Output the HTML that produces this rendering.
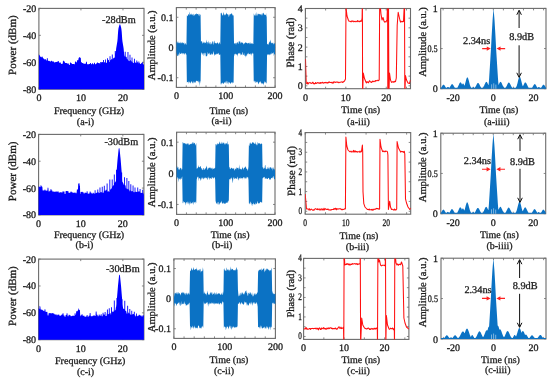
<!DOCTYPE html><html><head><meta charset="utf-8"><style>html,body{margin:0;padding:0;background:#fff;}svg{display:block}</style></head><body><svg width="550" height="381" viewBox="0 0 550 381" font-family="'Liberation Serif','Times New Roman',serif" fill="#1a1a1a">
<style>text{stroke:#222;stroke-width:0.3px;text-rendering:geometricPrecision}</style>
<rect width="550" height="381" fill="#fff"/>
<path d="M38.9 89.2v-2.0M38.9 8.4v2.0M80.94 89.2v-2.0M80.94 8.4v2.0M122.98 89.2v-2.0M122.98 8.4v2.0M38.9 89.2h2.0M144 89.2h-2.0M38.9 62.27h2.0M144 62.27h-2.0M38.9 35.33h2.0M144 35.33h-2.0M38.9 8.4h2.0M144 8.4h-2.0" stroke="#6b6b6b" stroke-width="0.8" fill="none"/>
<rect x="38.9" y="8.4" width="105.1" height="80.8" fill="none" stroke="#6b6b6b" stroke-width="1.1"/>
<path d="M38.9 89.2L38.9 54.28L39.15 54.66L39.4 55.02L39.65 55.36L39.9 56.06L40.15 56.36L40.41 56.64L40.66 56.91L40.91 56.78L41.16 57.02L41.41 57.25L41.66 57.47L41.91 56.37L42.16 56.57L42.41 56.76L42.66 56.94L42.91 58L43.16 58.17L43.42 58.32L43.67 58.47L43.92 59.12L44.17 59.26L44.42 59.39L44.67 59.52L44.92 58.86L45.17 58.98L45.42 59.09L45.67 59.2L45.92 60.2L46.17 60.3L46.43 60.4L46.68 60.5L46.93 58.01L47.18 58.1L47.43 58.19L47.68 58.27L47.93 60.7L48.18 60.78L48.43 60.86L48.68 60.93L48.93 60.79L49.18 60.86L49.44 60.93L49.69 61L49.94 61.48L50.19 61.54L50.44 61.6L50.69 61.66L50.94 60.69L51.19 60.75L51.44 60.81L51.69 60.86L51.94 61.37L52.19 61.42L52.45 61.47L52.7 61.52L52.95 61.32L53.2 61.36L53.45 61.41L53.7 61.45L53.95 62.36L54.2 62.41L54.45 62.45L54.7 62.49L54.95 62.08L55.2 62.12L55.46 62.16L55.71 62.2L55.96 61.97L56.21 62L56.46 62.04L56.71 62.07L56.96 61.72L57.21 61.75L57.46 61.78L57.71 61.81L57.96 60.86L58.21 60.89L58.47 60.92L58.72 60.95L58.97 62.6L59.22 62.62L59.47 62.65L59.72 62.68L59.97 62.48L60.22 62.5L60.47 62.53L60.72 62.56L60.97 63.84L61.22 63.86L61.48 63.88L61.73 63.91L61.98 63.7L62.23 63.72L62.48 63.74L62.73 63.76L62.98 60.81L63.23 60.83L63.48 60.85L63.73 60.87L63.98 61.55L64.23 61.57L64.49 61.59L64.74 61.6L64.99 62.99L65.24 63.01L65.49 63.03L65.74 63.05L65.99 62.86L66.24 62.88L66.49 62.9L66.74 62.91L66.99 63.44L67.24 63.45L67.5 63.47L67.75 63.48L68 63.5L68.25 63.51L68.5 63.53L68.75 63.54L69 65.08L69.25 65.09L69.5 65.1L69.75 65.11L70 62.54L70.25 62.55L70.51 62.57L70.76 62.58L71.01 63.18L71.26 63.19L71.51 63.2L71.76 63.21L72.01 64.08L72.26 64.09L72.51 64.1L72.76 64.11L73.01 64.08L73.26 64.09L73.52 64.1L73.77 64.11L74.02 64.14L74.27 64.14L74.52 64.15L74.77 64.16L75.02 61.43L75.27 61.44L75.52 61.45L75.77 61.45L76.02 62.36L76.27 62.36L76.53 62.37L76.78 62.38L77.03 60.33L77.28 60.33L77.53 60.33L77.78 60.33L78.03 60.29L78.28 60.29L78.53 58.29L78.78 58.29L79.03 57.22L79.28 57.22L79.54 57.22L79.79 57.22L80.04 57.65L80.29 57.65L80.54 57.65L80.79 57.65L81.04 62.36L81.29 62.36L81.54 62.36L81.79 62.36L82.04 62.93L82.29 62.93L82.55 62.93L82.8 62.93L83.05 63.6L83.3 63.6L83.55 63.6L83.8 63.6L84.05 63.75L84.3 63.75L84.55 63.75L84.8 63.75L85.05 63.7L85.3 63.7L85.56 63.7L85.81 63.7L86.06 61.84L86.31 61.83L86.56 61.83L86.81 61.83L87.06 64.14L87.31 64.13L87.56 64.13L87.81 64.13L88.06 64.37L88.31 64.36L88.57 64.36L88.82 64.36L89.07 63.9L89.32 63.9L89.57 63.89L89.82 63.89L90.07 62.98L90.32 62.97L90.57 62.97L90.82 62.97L91.07 64.2L91.32 64.2L91.58 64.19L91.83 64.19L92.08 63.2L92.33 63.19L92.58 63.19L92.83 63.18L93.08 64.28L93.33 64.28L93.58 64.27L93.83 64.26L94.08 62.7L94.33 62.69L94.59 62.68L94.84 62.67L95.09 64.26L95.34 64.25L95.59 64.24L95.84 64.23L96.09 63.47L96.34 63.46L96.59 63.45L96.84 63.44L97.09 62.44L97.34 62.43L97.6 62.42L97.85 62.4L98.1 63.14L98.35 63.12L98.6 63.11L98.85 63.09L99.1 63.37L99.35 63.35L99.6 63.33L99.85 63.31L100.1 63.46L100.35 63.44L100.61 63.42L100.86 63.4L101.11 62.37L101.36 62.34L101.61 62.31L101.86 62.28L102.11 62.15L102.36 62.12L102.61 62.09L102.86 62.05L103.11 63.06L103.36 63.02L103.62 62.98L103.87 62.94L104.12 62.36L104.37 62.31L104.62 62.26L104.87 62.21L105.12 62.72L105.37 62.66L105.62 62.6L105.87 62.54L106.12 62.9L106.37 62.83L106.63 62.76L106.88 62.68L107.13 60.67L107.38 60.59L107.63 60.5L107.88 60.41L108.13 60.08L108.38 59.98L108.63 59.87L108.88 59.76L109.13 62.19L109.38 62.07L109.64 61.94L109.89 61.81L110.14 60.45L110.39 60.3L110.64 60.15L110.89 59.99L111.14 59.41L111.39 59.24L111.64 59.05L111.89 58.86L112.14 59.9L112.39 59.69L112.65 59.47L112.9 59.23L113.15 58.59L113.4 58.33L113.65 58.06L113.9 57.78L114.15 58L114.4 57.68L114.65 57.36L114.9 56.02L115.15 55.66L115.4 55.29L115.66 54.45L115.91 51.62L116.16 48.61L116.41 46.96L116.66 45.6L116.91 44.1L117.16 42.53L117.41 40.97L117.66 38.3L117.91 34.29L118.16 31.09L118.41 28.86L118.67 27.52L118.92 26.64L119.17 25.76L119.42 24.89L119.67 24.39L119.92 24.12L120.17 24.44L120.42 25.03L120.67 25.9L120.92 26.78L121.17 27.66L121.42 29.21L121.68 31.44L121.93 34.92L122.18 38.94L122.43 41.21L122.68 42.78L122.93 44.35L123.18 45.81L123.43 47.18L123.68 49.09L123.93 52.1L124.18 54.76L124.43 56.17L124.69 56.54L124.94 55.84L125.19 56.18L125.44 56.51L125.69 56.81L125.94 56.57L126.19 56.85L126.44 57.11L126.69 57.37L126.94 59.03L127.19 59.26L127.44 59.48L127.7 59.69L127.95 59.91L128.2 60.1L128.45 60.29L128.7 60.46L128.95 60.96L129.2 61.12L129.45 61.27L129.7 61.41L129.95 59.71L130.2 59.84L130.45 59.96L130.71 60.08L130.96 61.27L131.21 61.37L131.46 61.48L131.71 61.58L131.96 61.54L132.21 61.63L132.46 61.72L132.71 61.8L132.96 62.93L133.21 63L133.46 63.07L133.72 63.14L133.97 60.56L134.22 60.62L134.47 60.68L134.72 60.74L134.97 62.48L135.22 62.53L135.47 62.58L135.72 62.63L135.97 62.81L136.22 62.85L136.47 62.89L136.73 62.93L136.98 61.8L137.23 61.84L137.48 61.87L137.73 61.9L137.98 63.34L138.23 63.37L138.48 63.4L138.73 63.42L138.98 62.66L139.23 62.68L139.48 62.71L139.74 62.73L139.99 63.96L140.24 63.98L140.49 64L140.74 64.02L140.99 63.24L141.24 63.26L141.49 63.28L141.74 63.29L141.99 62.14L142.24 62.16L142.49 62.17L142.75 62.18L143 64.43L143.25 64.44L143.5 64.45L143.75 64.46L144 63.8L144 89.2ZM116.85 49.61h0.9V74.2h-0.9ZM114.8 51.09h0.9V74.2h-0.9ZM111.82 54.53h0.9V74.2h-0.9ZM109.58 56.31h0.9V74.2h-0.9ZM107.01 58.31h0.9V74.2h-0.9ZM105.13 59.44h0.9V74.2h-0.9ZM103 60.09h0.9V74.2h-0.9ZM100.23 61.94h0.9V74.2h-0.9ZM122.05 45.35h0.9V74.2h-0.9ZM124.75 51.78h0.9V74.2h-0.9ZM127.51 52.04h0.9V74.2h-0.9ZM129.53 54.86h0.9V74.2h-0.9ZM131.56 57.62h0.9V74.2h-0.9ZM133.96 58.83h0.9V74.2h-0.9ZM136.33 60.42h0.9V74.2h-0.9ZM138.39 61.45h0.9V74.2h-0.9Z" fill="#0000ff"/>
<text x="38.9" y="101.1" font-size="10" text-anchor="middle">0</text>
<text x="80.94" y="101.1" font-size="10" text-anchor="middle">10</text>
<text x="122.98" y="101.1" font-size="10" text-anchor="middle">20</text>
<text x="36.3" y="11.9" font-size="10" text-anchor="end">-20</text>
<text x="36.3" y="38.83" font-size="10" text-anchor="end">-40</text>
<text x="36.3" y="65.77" font-size="10" text-anchor="end">-60</text>
<text x="36.3" y="92.7" font-size="10" text-anchor="end">-80</text>
<text x="102" y="22.8" font-size="10.3">-28dBm</text>
<text x="89.05" y="114.4" font-size="10.0" text-anchor="middle">Frequency (GHz)</text>
<text x="85.45" y="124.8" font-size="10.0" text-anchor="middle">(a-i)</text>
<text x="15.9" y="45.2" font-size="11" text-anchor="middle" transform="rotate(-90 15.9 45.2)">Power (dBm)</text>
<path d="M38.6 214.9v-2.0M38.6 134.4v2.0M80.72 214.9v-2.0M80.72 134.4v2.0M122.84 214.9v-2.0M122.84 134.4v2.0M38.6 214.9h2.0M143.9 214.9h-2.0M38.6 188.07h2.0M143.9 188.07h-2.0M38.6 161.23h2.0M143.9 161.23h-2.0M38.6 134.4h2.0M143.9 134.4h-2.0" stroke="#6b6b6b" stroke-width="0.8" fill="none"/>
<rect x="38.6" y="134.4" width="105.3" height="80.5" fill="none" stroke="#6b6b6b" stroke-width="1.1"/>
<path d="M38.6 214.9L38.6 186.15L38.85 186.42L39.1 186.67L39.35 186.9L39.6 186.56L39.85 186.77L40.1 186.97L40.36 187.15L40.61 185.13L40.86 185.3L41.11 185.46L41.36 185.62L41.61 186.42L41.86 186.56L42.11 186.69L42.36 186.82L42.61 190.33L42.86 190.44L43.11 190.55L43.36 190.65L43.61 190.23L43.87 190.33L44.12 190.42L44.37 190.51L44.62 189.41L44.87 189.5L45.12 189.57L45.37 189.65L45.62 190.6L45.87 190.67L46.12 190.74L46.37 190.81L46.62 190.48L46.87 190.54L47.12 190.6L47.38 190.65L47.63 187.61L47.88 187.67L48.13 187.72L48.38 187.77L48.63 191.47L48.88 191.52L49.13 191.57L49.38 191.61L49.63 190.63L49.88 190.67L50.13 190.71L50.38 190.75L50.63 189.08L50.89 189.12L51.14 189.16L51.39 189.19L51.64 190.56L51.89 190.59L52.14 190.62L52.39 190.66L52.64 191.69L52.89 191.72L53.14 191.75L53.39 191.78L53.64 191.37L53.89 191.4L54.14 191.42L54.4 191.45L54.65 191.99L54.9 192.02L55.15 192.05L55.4 192.07L55.65 191.17L55.9 191.2L56.15 191.22L56.4 191.24L56.65 191.85L56.9 191.88L57.15 191.9L57.4 191.92L57.65 191.12L57.91 191.14L58.16 191.16L58.41 191.18L58.66 192.59L58.91 192.61L59.16 192.63L59.41 192.64L59.66 192.14L59.91 192.15L60.16 192.17L60.41 192.19L60.66 192.32L60.91 192.33L61.16 192.35L61.42 192.36L61.67 192.44L61.92 192.46L62.17 192.47L62.42 192.48L62.67 191.36L62.92 191.37L63.17 191.39L63.42 191.4L63.67 191.5L63.92 191.51L64.17 191.52L64.42 191.53L64.67 193.91L64.92 193.92L65.18 193.93L65.43 193.94L65.68 191L65.93 191.01L66.18 191.02L66.43 191.03L66.68 190.96L66.93 190.97L67.18 190.98L67.43 190.99L67.68 191.18L67.93 191.19L68.18 191.2L68.44 191.21L68.69 193.09L68.94 193.1L69.19 193.11L69.44 193.11L69.69 192.55L69.94 192.56L70.19 192.57L70.44 192.57L70.69 191.6L70.94 191.61L71.19 191.62L71.44 191.62L71.69 192.26L71.94 192.27L72.2 192.27L72.45 192.28L72.7 192.69L72.95 192.7L73.2 192.71L73.45 192.71L73.7 192.78L73.95 192.78L74.2 192.79L74.45 192.79L74.7 192.43L74.95 192.44L75.2 192.44L75.46 192.45L75.71 193.28L75.96 193.29L76.21 193.29L76.46 193.29L76.71 191.7L76.96 189.2L77.21 189.2L77.46 189.2L77.71 189.76L77.96 189.76L78.21 183.86L78.46 183.86L78.71 183.34L78.97 183.34L79.22 183.34L79.47 183.34L79.72 185.64L79.97 185.64L80.22 194.09L80.47 194.1L80.72 192.05L80.97 192.05L81.22 192.05L81.47 192.06L81.72 191.81L81.97 191.81L82.22 191.81L82.47 191.82L82.73 192.23L82.98 192.23L83.23 192.24L83.48 192.24L83.73 193.47L83.98 193.47L84.23 193.47L84.48 193.47L84.73 192.51L84.98 192.51L85.23 192.52L85.48 192.52L85.73 192.9L85.99 192.91L86.24 192.91L86.49 192.91L86.74 191.22L86.99 191.22L87.24 191.22L87.49 191.22L87.74 193.62L87.99 193.63L88.24 193.63L88.49 193.63L88.74 193.56L88.99 193.56L89.24 193.56L89.5 193.56L89.75 191.6L90 191.6L90.25 191.6L90.5 191.6L90.75 192.86L91 192.86L91.25 192.86L91.5 192.87L91.75 193.72L92 193.72L92.25 193.72L92.5 193.72L92.75 192.82L93 192.82L93.26 192.82L93.51 192.82L93.76 193.54L94.01 193.54L94.26 193.53L94.51 193.53L94.76 194.63L95.01 194.62L95.26 194.62L95.51 194.61L95.76 192.93L96.01 192.92L96.26 192.91L96.52 192.91L96.77 192.46L97.02 192.45L97.27 192.44L97.52 192.43L97.77 192.03L98.02 192.02L98.27 192.01L98.52 192L98.77 193.13L99.02 193.12L99.27 193.1L99.52 193.09L99.77 192.4L100.03 192.39L100.28 192.37L100.53 192.35L100.78 192.35L101.03 192.33L101.28 192.31L101.53 192.29L101.78 192.33L102.03 192.3L102.28 192.28L102.53 192.25L102.78 192.83L103.03 192.8L103.28 192.76L103.53 192.73L103.79 191.32L104.04 191.28L104.29 191.24L104.54 191.2L104.79 190.78L105.04 190.73L105.29 190.68L105.54 190.63L105.79 189.84L106.04 189.78L106.29 189.72L106.54 189.65L106.79 192.48L107.05 192.4L107.3 192.31L107.55 192.23L107.8 191.23L108.05 191.13L108.3 191.03L108.55 190.91L108.8 191.94L109.05 191.81L109.3 191.68L109.55 191.54L109.8 190.17L110.05 190.01L110.3 189.84L110.56 189.66L110.81 188.88L111.06 188.67L111.31 188.45L111.56 188.22L111.81 188.95L112.06 188.69L112.31 188.42L112.56 188.12L112.81 186.18L113.06 185.85L113.31 185.5L113.56 185.13L113.81 184.98L114.06 184.56L114.32 184.11L114.57 183.64L114.82 182.79L115.07 182.26L115.32 181.7L115.57 181.1L115.82 182.59L116.07 178.7L116.32 174.82L116.57 171.64L116.82 168.78L117.07 165.61L117.32 162.31L117.58 159.27L117.83 156.85L118.08 154.43L118.33 152L118.58 149.58L118.83 148.24L119.08 147.93L119.33 148.19L119.58 149.18L119.83 151.6L120.08 154.03L120.33 156.45L120.58 158.87L120.83 161.77L121.09 165.07L121.34 168.31L121.59 171.17L121.84 174.18L122.09 178.06L122.34 181.62L122.59 182.26L122.84 182.34L123.09 182.91L123.34 183.45L123.59 183.96L123.84 184.93L124.09 185.38L124.34 185.81L124.59 186.21L124.85 184.71L125.1 185.06L125.35 185.39L125.6 185.71L125.85 188.14L126.1 188.42L126.35 188.68L126.6 187.72L126.85 187.96L127.1 188.18L127.35 188.38L127.6 188.96L127.85 189.15L128.11 189.32L128.36 189.48L128.61 191.45L128.86 191.59L129.11 191.73L129.36 191.86L129.61 190.3L129.86 190.41L130.11 190.52L130.36 190.62L130.61 191.37L130.86 191.46L131.11 191.55L131.36 191.63L131.62 190.91L131.87 190.98L132.12 191.05L132.37 191.11L132.62 191.66L132.87 191.72L133.12 191.77L133.37 191.82L133.62 192.08L133.87 192.13L134.12 192.17L134.37 192.21L134.62 191.86L134.87 191.89L135.12 191.92L135.38 191.95L135.63 191.77L135.88 191.8L136.13 191.82L136.38 191.85L136.63 191.89L136.88 191.91L137.13 191.93L137.38 191.95L137.63 191.85L137.88 191.87L138.13 191.88L138.38 191.87L138.63 191.26L138.89 191.25L139.14 191.24L139.39 191.23L139.64 192.26L139.89 192.25L140.14 192.24L140.39 192.23L140.64 192.75L140.89 192.74L141.14 192.73L141.39 192.72L141.64 193.11L141.89 193.1L142.15 193.09L142.4 193.08L142.65 192.86L142.9 192.85L143.15 192.84L143.4 192.83L143.65 194.27L143.9 194.27L143.9 214.9ZM116.05 169.78h0.9V199.9h-0.9ZM113.84 174.57h0.9V199.9h-0.9ZM111.75 179.62h0.9V199.9h-0.9ZM109.38 179.38h0.9V199.9h-0.9ZM106.66 183.49h0.9V199.9h-0.9ZM103.84 185.82h0.9V199.9h-0.9ZM101.77 186.78h0.9V199.9h-0.9ZM99.53 187.51h0.9V199.9h-0.9ZM97.34 189.39h0.9V199.9h-0.9ZM94.66 190.16h0.9V199.9h-0.9ZM121.25 172.59h0.9V199.9h-0.9ZM123.99 177.23h0.9V199.9h-0.9ZM126.44 178.1h0.9V199.9h-0.9ZM128.39 180.93h0.9V199.9h-0.9ZM130.37 184.25h0.9V199.9h-0.9ZM132.6 185.4h0.9V199.9h-0.9ZM134.56 187.42h0.9V199.9h-0.9ZM137.3 187.61h0.9V199.9h-0.9ZM139.64 189.04h0.9V199.9h-0.9ZM142.27 189.67h0.9V199.9h-0.9Z" fill="#0000ff"/>
<text x="38.6" y="226.8" font-size="10" text-anchor="middle">0</text>
<text x="80.72" y="226.8" font-size="10" text-anchor="middle">10</text>
<text x="122.84" y="226.8" font-size="10" text-anchor="middle">20</text>
<text x="36" y="137.9" font-size="10" text-anchor="end">-20</text>
<text x="36" y="164.73" font-size="10" text-anchor="end">-40</text>
<text x="36" y="191.57" font-size="10" text-anchor="end">-60</text>
<text x="36" y="218.4" font-size="10" text-anchor="end">-80</text>
<text x="104.4" y="145.4" font-size="10.3">-30dBm</text>
<text x="89.05" y="238.3" font-size="10.0" text-anchor="middle">Frequency (GHz)</text>
<text x="84.5" y="248.4" font-size="10.0" text-anchor="middle">(b-i)</text>
<text x="15.9" y="171.4" font-size="11" text-anchor="middle" transform="rotate(-90 15.9 171.4)">Power (dBm)</text>
<path d="M38.6 339.7v-2.0M38.6 259.1v2.0M80.72 339.7v-2.0M80.72 259.1v2.0M122.84 339.7v-2.0M122.84 259.1v2.0M38.6 339.7h2.0M143.9 339.7h-2.0M38.6 312.83h2.0M143.9 312.83h-2.0M38.6 285.97h2.0M143.9 285.97h-2.0M38.6 259.1h2.0M143.9 259.1h-2.0" stroke="#6b6b6b" stroke-width="0.8" fill="none"/>
<rect x="38.6" y="259.1" width="105.3" height="80.6" fill="none" stroke="#6b6b6b" stroke-width="1.1"/>
<path d="M38.6 339.7L38.6 308.13L38.85 308.5L39.1 308.85L39.35 309.17L39.6 305.8L39.85 306.09L40.1 306.37L40.36 306.63L40.61 309.25L40.86 309.49L41.11 309.71L41.36 309.92L41.61 309.33L41.86 309.52L42.11 309.7L42.36 309.87L42.61 310.13L42.86 310.29L43.11 310.44L43.36 310.58L43.61 310.91L43.87 311.04L44.12 311.17L44.37 311.29L44.62 309.14L44.87 309.25L45.12 309.36L45.37 309.47L45.62 311.82L45.87 311.92L46.12 312.01L46.37 312.1L46.62 311.68L46.87 311.77L47.12 311.85L47.38 311.93L47.63 315.36L47.88 315.43L48.13 315.5L48.38 315.57L48.63 313.17L48.88 313.23L49.13 313.3L49.38 313.36L49.63 312.96L49.88 313.02L50.13 313.07L50.38 313.13L50.63 313.24L50.89 313.3L51.14 313.35L51.39 313.4L51.64 313.14L51.89 313.19L52.14 313.23L52.39 313.28L52.64 313.02L52.89 313.06L53.14 313.1L53.39 313.14L53.64 313.72L53.89 313.76L54.14 313.8L54.4 313.83L54.65 314.57L54.9 314.6L55.15 314.64L55.4 314.68L55.65 314.13L55.9 314.17L56.15 314.2L56.4 314.23L56.65 315.22L56.9 315.25L57.15 315.28L57.4 315.31L57.65 314.41L57.91 314.44L58.16 314.46L58.41 314.49L58.66 314.7L58.91 314.72L59.16 314.75L59.41 314.77L59.66 316.01L59.91 316.04L60.16 316.06L60.41 316.08L60.66 315.3L60.91 315.32L61.16 315.35L61.42 315.37L61.67 314.55L61.92 314.57L62.17 314.58L62.42 314.6L62.67 313.13L62.92 313.15L63.17 313.17L63.42 313.18L63.67 315.53L63.92 315.55L64.17 315.56L64.42 315.58L64.67 316.71L64.92 316.72L65.18 316.74L65.43 316.75L65.68 315L65.93 315.02L66.18 315.03L66.43 315.05L66.68 313.15L66.93 313.17L67.18 313.18L67.43 313.19L67.68 316.13L67.93 316.14L68.18 316.15L68.44 316.16L68.69 314.66L68.94 314.67L69.19 314.68L69.44 314.69L69.69 315.18L69.94 315.19L70.19 315.2L70.44 315.21L70.69 316.16L70.94 316.17L71.19 316.18L71.44 316.19L71.69 315.95L71.94 315.96L72.2 315.97L72.45 315.98L72.7 315.59L72.95 315.6L73.2 315.61L73.45 315.62L73.7 316.09L73.95 316.1L74.2 316.1L74.45 316.11L74.7 313.32L74.95 313.32L75.2 313.33L75.46 313.34L75.71 314.9L75.96 314.91L76.21 311.19L76.46 311.19L76.71 311.13L76.96 311.13L77.21 311.13L77.46 311.13L77.71 310.57L77.96 310.57L78.21 308.27L78.46 308.27L78.71 309.82L78.97 309.82L79.22 309.82L79.47 309.82L79.72 310.16L79.97 310.16L80.22 316.26L80.47 316.26L80.72 315.35L80.97 315.35L81.22 315.36L81.47 315.36L81.72 314.34L81.97 314.34L82.22 314.34L82.47 314.35L82.73 315.76L82.98 315.76L83.23 315.76L83.48 315.77L83.73 315.71L83.98 315.71L84.23 315.71L84.48 315.72L84.73 316.89L84.98 316.89L85.23 316.89L85.48 316.89L85.73 316.37L85.99 316.37L86.24 316.38L86.49 316.38L86.74 315.04L86.99 315.04L87.24 315.05L87.49 315.05L87.74 316.68L87.99 316.68L88.24 316.69L88.49 316.69L88.74 315.64L88.99 315.64L89.24 315.64L89.5 315.64L89.75 312.93L90 312.93L90.25 312.93L90.5 312.93L90.75 316.28L91 316.28L91.25 316.29L91.5 316.29L91.75 316.29L92 316.29L92.25 316.29L92.5 316.29L92.75 315.66L93 315.66L93.26 315.66L93.51 315.66L93.76 315.21L94.01 315.21L94.26 315.21L94.51 315.21L94.76 316.02L95.01 316.01L95.26 316.01L95.51 316.01L95.76 311.5L96.01 311.5L96.26 311.49L96.52 311.49L96.77 314.85L97.02 314.85L97.27 314.84L97.52 314.83L97.77 316.16L98.02 316.16L98.27 316.15L98.52 316.14L98.77 314.43L99.02 314.42L99.27 314.41L99.52 314.4L99.77 315.75L100.03 315.73L100.28 315.72L100.53 315.71L100.78 314.87L101.03 314.86L101.28 314.84L101.53 314.83L101.78 316.18L102.03 316.17L102.28 316.15L102.53 316.13L102.78 313.87L103.03 313.85L103.28 313.82L103.53 313.79L103.79 314.66L104.04 314.63L104.29 314.6L104.54 314.57L104.79 315.83L105.04 315.79L105.29 315.76L105.54 315.71L105.79 316.03L106.04 315.98L106.29 315.93L106.54 315.88L106.79 313.17L107.05 313.11L107.3 313.05L107.55 312.98L107.8 314.24L108.05 314.17L108.3 314.09L108.55 314.01L108.8 314.58L109.05 314.49L109.3 314.39L109.55 314.29L109.8 313.43L110.05 313.31L110.3 313.19L110.56 313.06L110.81 314.68L111.06 314.53L111.31 314.38L111.56 314.21L111.81 311.81L112.06 311.63L112.31 311.43L112.56 311.23L112.81 312.25L113.06 312.02L113.31 311.77L113.56 311.51L113.81 310.12L114.06 309.83L114.32 309.52L114.57 309.2L114.82 310.82L115.07 310.45L115.32 310.07L115.57 309.66L115.82 307.46L116.07 307L116.32 305.24L116.57 302.59L116.82 299.67L117.07 296.72L117.32 293.71L117.58 290.7L117.83 287.69L118.08 284.75L118.33 282.39L118.58 280.02L118.83 277.66L119.08 275.3L119.33 274.81L119.58 274.7L119.83 275.01L120.08 276.82L120.33 279.18L120.58 281.55L120.83 283.91L121.09 286.62L121.34 289.63L121.59 292.64L121.84 295.65L122.09 298.63L122.34 301.55L122.59 304.47L122.84 306.56L123.09 308.22L123.34 308.66L123.59 309.08L123.84 308.68L124.09 309.05L124.34 309.4L124.59 309.73L124.85 309.92L125.1 310.21L125.35 310.49L125.6 310.76L125.85 311.01L126.1 311.24L126.35 311.47L126.6 313.41L126.85 313.61L127.1 313.8L127.35 313.97L127.6 311.88L127.85 312.04L128.11 312.19L128.36 312.33L128.61 313.15L128.86 313.28L129.11 313.4L129.36 313.51L129.61 313.83L129.86 313.93L130.11 314.03L130.36 314.12L130.61 314.64L130.86 314.72L131.11 314.79L131.36 314.87L131.62 314.62L131.87 314.68L132.12 314.74L132.37 314.8L132.62 313.99L132.87 314.04L133.12 314.09L133.37 314.13L133.62 313.79L133.87 313.83L134.12 313.87L134.37 313.9L134.62 315.32L134.87 315.35L135.12 315.38L135.38 315.41L135.63 316.41L135.88 316.44L136.13 316.46L136.38 316.48L136.63 316.14L136.88 316.16L137.13 316.18L137.38 316.2L137.63 315.78L137.88 315.8L138.13 315.81L138.38 315.83L138.63 315.41L138.89 315.43L139.14 315.44L139.39 315.45L139.64 315.36L139.89 315.37L140.14 315.38L140.39 315.39L140.64 315.56L140.89 315.57L141.14 315.57L141.39 315.58L141.64 316.44L141.89 316.44L142.15 316.45L142.4 316.45L142.65 315.17L142.9 315.18L143.15 315.18L143.4 315.19L143.65 315.43L143.9 315.43L143.9 339.7ZM116.45 297.98h0.9V324.7h-0.9ZM113.84 300.45h0.9V324.7h-0.9ZM111.07 307.32h0.9V324.7h-0.9ZM108.79 308.21h0.9V324.7h-0.9ZM106.95 309.47h0.9V324.7h-0.9ZM104.65 312.03h0.9V324.7h-0.9ZM102.59 312.87h0.9V324.7h-0.9ZM100.73 314.21h0.9V324.7h-0.9ZM121.65 299.13h0.9V324.7h-0.9ZM124.33 300.77h0.9V324.7h-0.9ZM127.21 305.77h0.9V324.7h-0.9ZM129.36 308.96h0.9V324.7h-0.9ZM131.31 310.71h0.9V324.7h-0.9ZM133.84 311.63h0.9V324.7h-0.9ZM135.99 313.42h0.9V324.7h-0.9ZM138.76 314.67h0.9V324.7h-0.9Z" fill="#0000ff"/>
<text x="38.6" y="351.6" font-size="10" text-anchor="middle">0</text>
<text x="80.72" y="351.6" font-size="10" text-anchor="middle">10</text>
<text x="122.84" y="351.6" font-size="10" text-anchor="middle">20</text>
<text x="36" y="262.6" font-size="10" text-anchor="end">-20</text>
<text x="36" y="289.47" font-size="10" text-anchor="end">-40</text>
<text x="36" y="316.33" font-size="10" text-anchor="end">-60</text>
<text x="36" y="343.2" font-size="10" text-anchor="end">-80</text>
<text x="105.9" y="271.8" font-size="10.3">-30dBm</text>
<text x="90.2" y="364.4" font-size="10.0" text-anchor="middle">Frequency (GHz)</text>
<text x="85.5" y="374.8" font-size="10.0" text-anchor="middle">(c-i)</text>
<text x="15.9" y="296.1" font-size="11" text-anchor="middle" transform="rotate(-90 15.9 296.1)">Power (dBm)</text>
<path d="M176.4 87.4v-2.0M176.4 7.6v2.0M186.27 87.4v-2.0M186.27 7.6v2.0M196.14 87.4v-2.0M196.14 7.6v2.0M206.01 87.4v-2.0M206.01 7.6v2.0M215.88 87.4v-2.0M215.88 7.6v2.0M225.75 87.4v-2.0M225.75 7.6v2.0M235.62 87.4v-2.0M235.62 7.6v2.0M245.49 87.4v-2.0M245.49 7.6v2.0M255.36 87.4v-2.0M255.36 7.6v2.0M265.23 87.4v-2.0M265.23 7.6v2.0M275.1 87.4v-2.0M275.1 7.6v2.0M176.4 77.73h2.0M275.1 77.73h-2.0M176.4 47.5h2.0M275.1 47.5h-2.0M176.4 17.27h2.0M275.1 17.27h-2.0" stroke="#6b6b6b" stroke-width="0.8" fill="none"/>
<rect x="176.4" y="7.6" width="98.7" height="79.8" fill="none" stroke="#6b6b6b" stroke-width="1.1"/>
<path d="M176.4 43.02L176.8 41.62L177.21 41.76L177.61 43.6L178.01 40.71L178.41 43.62L178.82 42.46L179.22 43.12L179.62 42.27L180.03 44.11L180.43 41.4L180.83 43.16L181.23 42.34L181.64 43.2L182.04 43.46L182.44 42.57L182.85 42.19L183.25 43.27L183.65 43.22L184.05 42.33L184.46 43.98L184.86 44.66L185.26 42.64L185.67 43.77L186.07 45.09L186.47 43.92L186.87 15.14L187.28 15.91L187.68 16.22L188.08 14.61L188.49 13.7L188.89 14.89L189.29 15.43L189.69 11.6L190.1 13.65L190.5 14.96L190.9 14.07L191.31 13.54L191.71 14.86L192.11 15.51L192.51 14.28L192.92 14.38L193.32 13.48L193.72 16L194.13 15.35L194.53 15.53L194.93 14.08L195.33 14.51L195.74 14.09L196.14 14.48L196.54 13.18L196.95 13.78L197.35 13.98L197.75 14.22L198.15 13.63L198.56 16.05L198.96 13.87L199.36 14.01L199.77 16.52L200.17 14.28L200.57 14.91L200.97 42.23L201.38 40.91L201.78 41.03L202.18 42.7L202.59 43.99L202.99 40.92L203.39 42.78L203.79 42.54L204.2 43.61L204.6 41.91L205 42.42L205.41 43.25L205.81 42.39L206.21 41.73L206.61 39.54L207.02 44.72L207.42 42.12L207.82 42.57L208.23 40.6L208.63 44.12L209.03 41.73L209.43 44.39L209.84 42.46L210.24 41.68L210.64 44.75L211.05 43.38L211.45 44.44L211.85 42.8L212.25 41.46L212.66 40.92L213.06 44.94L213.46 43.67L213.87 41.6L214.27 40.55L214.67 42.61L215.07 43.85L215.48 42.74L215.88 43.08L216.28 43.27L216.69 43.84L217.09 42.34L217.49 42.73L217.89 42.64L218.3 43.29L218.7 44.42L219.1 43.57L219.51 41.78L219.91 43.26L220.31 44.58L220.71 13.23L221.12 13.09L221.52 12.42L221.92 14.32L222.33 15.13L222.73 15.71L223.13 13.24L223.53 11.93L223.94 15.51L224.34 15.33L224.74 14.01L225.15 15.52L225.55 13.75L225.95 15.02L226.35 12.59L226.76 13.49L227.16 14.62L227.56 13.67L227.97 15.09L228.37 14.3L228.77 16.91L229.17 16.18L229.58 13.8L229.98 15.27L230.38 14.03L230.79 14.07L231.19 13.25L231.59 13.79L231.99 13.57L232.4 14.76L232.8 15.38L233.2 15.42L233.61 15.16L234.01 43.28L234.41 43.64L234.81 43.16L235.22 42.79L235.62 43.42L236.02 45.09L236.43 43.14L236.83 42.82L237.23 41.91L237.63 42.45L238.04 43.74L238.44 43.82L238.84 40.93L239.25 42.26L239.65 41.12L240.05 40.81L240.45 43.92L240.86 42.35L241.26 42.57L241.66 42.47L242.07 42.49L242.47 42.85L242.87 42.87L243.27 44.65L243.68 43.23L244.08 43.85L244.48 42.93L244.89 43.55L245.29 42.4L245.69 42.19L246.09 42.73L246.5 42.72L246.9 42.96L247.3 43.53L247.71 43.23L248.11 43.58L248.51 42.65L248.91 43.04L249.32 42.44L249.72 44.46L250.12 42.12L250.53 43.87L250.93 43.84L251.33 43.27L251.73 43.66L252.14 42.75L252.54 43.67L252.94 44.19L253.35 43.95L253.75 13.26L254.15 14.6L254.55 15.88L254.96 14.64L255.36 16.29L255.76 12.75L256.17 16.26L256.57 14.14L256.97 11.75L257.37 16.18L257.78 14.33L258.18 13.59L258.58 14.15L258.99 14.37L259.39 13.64L259.79 14.48L260.19 14.29L260.6 14.78L261 13.98L261.4 15.64L261.81 13.81L262.21 13L262.61 15.8L263.01 13.07L263.42 12.85L263.82 13.63L264.22 15.19L264.63 13.91L265.03 15.13L265.43 14.78L265.83 14.55L266.24 17.1L266.64 12.47L267.04 44.15L267.45 43.8L267.85 44.62L268.25 44.66L268.65 44.06L269.06 42.19L269.46 41.3L269.86 43.09L270.27 39.43L270.67 41.31L271.07 43.54L271.47 42.9L271.88 42.59L272.28 43.51L272.68 42.74L273.09 42.45L273.49 43.97L273.89 44.62L274.29 43.29L274.7 43.28L275.1 43.43L275.1 55.12L274.7 54.2L274.29 53.79L273.89 56.22L273.49 51.93L273.09 52.92L272.68 52.95L272.28 53.93L271.88 52.34L271.47 54.58L271.07 53.68L270.67 55.29L270.27 53.16L269.86 54.48L269.46 55.39L269.06 53.78L268.65 54.51L268.25 54.92L267.85 53.76L267.45 54.91L267.04 55.33L266.64 83.9L266.24 82.79L265.83 82.41L265.43 81.56L265.03 83.43L264.63 81.96L264.22 81.03L263.82 85.62L263.42 83.64L263.01 83.28L262.61 83.18L262.21 83.87L261.81 84.3L261.4 82.46L261 83.3L260.6 80.86L260.19 82.17L259.79 82.45L259.39 81.38L258.99 83.16L258.58 83.39L258.18 84.53L257.78 81.51L257.37 81.7L256.97 82.94L256.57 81.45L256.17 82.36L255.76 80.82L255.36 83.03L254.96 82.44L254.55 81.19L254.15 80.51L253.75 81.68L253.35 54L252.94 53.09L252.54 54.35L252.14 52.27L251.73 56.36L251.33 52.88L250.93 55.35L250.53 52.92L250.12 54.34L249.72 54.31L249.32 53.84L248.91 54.46L248.51 52.51L248.11 54.1L247.71 53.45L247.3 54.04L246.9 56.52L246.5 54.34L246.09 56.38L245.69 55.61L245.29 57.79L244.89 52.55L244.48 56.22L244.08 55.26L243.68 54.46L243.27 55.26L242.87 51.74L242.47 52.95L242.07 55.44L241.66 54.27L241.26 54.57L240.86 55.43L240.45 53.89L240.05 52.94L239.65 52.7L239.25 54.2L238.84 52.65L238.44 53.96L238.04 53.32L237.63 56.65L237.23 54.4L236.83 54.43L236.43 54.6L236.02 54.24L235.62 54.22L235.22 53.26L234.81 56.21L234.41 53.67L234.01 54.21L233.61 82.27L233.2 82.92L232.8 81.67L232.4 83.77L231.99 82.3L231.59 82.45L231.19 82.61L230.79 83.34L230.38 83.91L229.98 82.95L229.58 82.64L229.17 81.72L228.77 84.63L228.37 81.38L227.97 82.38L227.56 83.91L227.16 80.53L226.76 84.21L226.35 80.54L225.95 82.09L225.55 83.54L225.15 81.08L224.74 82.45L224.34 82.74L223.94 82.69L223.53 84.14L223.13 83.46L222.73 82.63L222.33 82.41L221.92 84.73L221.52 83.46L221.12 82.63L220.71 85.09L220.31 54.47L219.91 54.46L219.51 54.63L219.1 54.97L218.7 54.09L218.3 52.76L217.89 53.26L217.49 54.15L217.09 54.02L216.69 53.4L216.28 54.43L215.88 54.47L215.48 54.88L215.07 53.74L214.67 54.44L214.27 56.22L213.87 53.52L213.46 51.02L213.06 52.97L212.66 55.19L212.25 53.81L211.85 54.66L211.45 52.94L211.05 54.83L210.64 54.68L210.24 54.55L209.84 54.85L209.43 53.2L209.03 52.54L208.63 54.04L208.23 54.23L207.82 51.72L207.42 54.64L207.02 56.27L206.61 56.04L206.21 56.56L205.81 56.24L205.41 52.48L205 53.57L204.6 52.47L204.2 55.21L203.79 56.06L203.39 53.09L202.99 53.61L202.59 55.14L202.18 52.88L201.78 52.38L201.38 52.72L200.97 55.17L200.57 83.67L200.17 81.03L199.77 81.47L199.36 86.48L198.96 80.25L198.56 81.65L198.15 82.68L197.75 80.84L197.35 81.22L196.95 81.08L196.54 80.38L196.14 81.26L195.74 81.57L195.33 83.09L194.93 82.35L194.53 82.89L194.13 81.58L193.72 81.16L193.32 83.8L192.92 81.4L192.51 83.62L192.11 82.95L191.71 80.7L191.31 81.74L190.9 82.4L190.5 82.59L190.1 83.77L189.69 81.75L189.29 81.52L188.89 84.06L188.49 81.01L188.08 82.58L187.68 82.08L187.28 82.01L186.87 82.6L186.47 54.07L186.07 54.96L185.67 53.44L185.26 52.94L184.86 53.23L184.46 54.35L184.05 54.73L183.65 53.17L183.25 53.3L182.85 53.55L182.44 52.95L182.04 54.85L181.64 52.4L181.23 53.4L180.83 53.76L180.43 53.79L180.03 54.03L179.62 52.05L179.22 54.98L178.82 55.93L178.41 53.6L178.01 55.84L177.61 56.33L177.21 55.45L176.8 52.83L176.4 55.41Z" fill="#0b72c4"/>
<text x="176.4" y="99.3" font-size="10" text-anchor="middle">0</text>
<text x="225.75" y="99.3" font-size="10" text-anchor="middle">100</text>
<text x="275.1" y="99.3" font-size="10" text-anchor="middle">200</text>
<text x="173.4" y="20.77" font-size="10" text-anchor="end">0.1</text>
<text x="173.4" y="51" font-size="10" text-anchor="end">0</text>
<text x="173.4" y="81.23" font-size="10" text-anchor="end">-0.1</text>
<text x="228.8" y="113.5" font-size="10.0" text-anchor="middle">Time (ns)</text>
<text x="221.5" y="124.1" font-size="10.0" text-anchor="middle">(a-ii)</text>
<text x="155.3" y="45.3" font-size="10.5" text-anchor="middle" transform="rotate(-90 155.3 45.3)">Amplitude (a.u.)</text>
<path d="M176.6 214.4v-2.0M176.6 132.2v2.0M186.44 214.4v-2.0M186.44 132.2v2.0M196.28 214.4v-2.0M196.28 132.2v2.0M206.12 214.4v-2.0M206.12 132.2v2.0M215.96 214.4v-2.0M215.96 132.2v2.0M225.8 214.4v-2.0M225.8 132.2v2.0M235.64 214.4v-2.0M235.64 132.2v2.0M245.48 214.4v-2.0M245.48 132.2v2.0M255.32 214.4v-2.0M255.32 132.2v2.0M265.16 214.4v-2.0M265.16 132.2v2.0M275 214.4v-2.0M275 132.2v2.0M176.6 204.44h2.0M275 204.44h-2.0M176.6 173.3h2.0M275 173.3h-2.0M176.6 142.16h2.0M275 142.16h-2.0" stroke="#6b6b6b" stroke-width="0.8" fill="none"/>
<rect x="176.6" y="132.2" width="98.4" height="82.2" fill="none" stroke="#6b6b6b" stroke-width="1.1"/>
<path d="M176.6 168.48L177 165.5L177.4 167.67L177.8 167.68L178.21 166.71L178.61 169.79L179.01 169.16L179.41 169.91L179.81 168.59L180.21 167.39L180.62 168.5L181.02 167.93L181.42 170.56L181.82 168.31L182.22 169.46L182.62 141.79L183.03 142.75L183.43 142.69L183.83 143.78L184.23 143.05L184.63 143L185.03 144.1L185.44 144.26L185.84 142.67L186.24 144.38L186.64 144.37L187.04 142.85L187.44 144.51L187.85 142.89L188.25 145.46L188.65 142.82L189.05 144.4L189.45 144.32L189.85 145.19L190.26 143.88L190.66 143.99L191.06 143.51L191.46 144.3L191.86 143.62L192.26 141.74L192.67 143.27L193.07 144.35L193.47 141.79L193.87 143.86L194.27 143.07L194.67 142.78L195.08 143.9L195.48 145.82L195.88 144.1L196.28 143.12L196.68 168.89L197.08 168L197.48 167.41L197.89 169.07L198.29 164.91L198.69 166.71L199.09 167.3L199.49 167.2L199.89 167.28L200.3 166.02L200.7 166.19L201.1 168.47L201.5 167.82L201.9 169.46L202.3 170.17L202.71 169.44L203.11 168.07L203.51 167.96L203.91 170.15L204.31 169.89L204.71 168.82L205.12 168.68L205.52 168.53L205.92 167.74L206.32 167.13L206.72 165.53L207.12 167.81L207.53 169.67L207.93 169.76L208.33 168.22L208.73 167.75L209.13 167.68L209.53 167.83L209.94 167.62L210.34 167.59L210.74 168.35L211.14 169.27L211.54 167.98L211.94 167.82L212.35 170.12L212.75 167.2L213.15 168.95L213.55 168.73L213.95 168.18L214.35 167.66L214.76 168.92L215.16 167.4L215.56 143.64L215.96 144.56L216.36 144.02L216.76 145.87L217.16 144.43L217.57 142.77L217.97 144.49L218.37 144.08L218.77 143.88L219.17 141.17L219.57 142.61L219.98 143.75L220.38 144L220.78 143.13L221.18 141.46L221.58 144.09L221.98 143.16L222.39 144.04L222.79 142.25L223.19 143L223.59 142.27L223.99 143.71L224.39 144.86L224.8 142.75L225.2 142.9L225.6 144.67L226 143.21L226.4 143.23L226.8 143.91L227.21 140.87L227.61 144.39L228.01 144.3L228.41 143.84L228.81 145.53L229.21 169.44L229.62 166.68L230.02 167.55L230.42 169.14L230.82 169.09L231.22 167.84L231.62 167.76L232.03 168.19L232.43 168.9L232.83 168.14L233.23 168.06L233.63 169.22L234.03 167.8L234.44 170.78L234.84 169.88L235.24 168.81L235.64 168.59L236.04 169.68L236.44 168.12L236.84 167.32L237.25 167.98L237.65 168.23L238.05 167.52L238.45 168.03L238.85 169.72L239.25 168.69L239.66 164.28L240.06 169.71L240.46 168.41L240.86 168.9L241.26 169.45L241.66 169.58L242.07 168.36L242.47 168.13L242.87 166.41L243.27 170.05L243.67 168.79L244.07 168.1L244.48 167.44L244.88 167.74L245.28 165.94L245.68 167.15L246.08 167.58L246.48 169.36L246.89 168.41L247.29 169.25L247.69 171.07L248.09 169.49L248.49 166.2L248.89 144.94L249.3 146.16L249.7 143.81L250.1 142.06L250.5 143.77L250.9 143.28L251.3 144.02L251.71 143.81L252.11 142.34L252.51 142.85L252.91 141.98L253.31 142.75L253.71 142.55L254.12 143.96L254.52 143.43L254.92 143.44L255.32 144.45L255.72 141.38L256.12 143.9L256.52 144.4L256.93 145.55L257.33 145.1L257.73 142.06L258.13 143.09L258.53 143.25L258.93 144.12L259.34 143.16L259.74 143.06L260.14 144.57L260.54 144.04L260.94 143.61L261.34 143.6L261.75 143.75L262.15 144.06L262.55 167.79L262.95 167.04L263.35 167.88L263.75 169.28L264.16 168.04L264.56 168.41L264.96 165.38L265.36 164.81L265.76 168.71L266.16 168.49L266.57 169.44L266.97 168.79L267.37 169.09L267.77 166.73L268.17 168.14L268.57 169.1L268.98 166.37L269.38 169.92L269.78 167.54L270.18 167.37L270.58 167.85L270.98 166.63L271.39 168.61L271.79 168.85L272.19 167.62L272.59 171.01L272.99 166.59L273.39 168.14L273.8 169.11L274.2 170.45L274.6 168.74L275 169.3L275 179.95L274.6 178.97L274.2 179.01L273.8 177.93L273.39 175.92L272.99 176.6L272.59 178.8L272.19 177.16L271.79 178.18L271.39 177.76L270.98 178.52L270.58 179.36L270.18 180.08L269.78 179.07L269.38 180.3L268.98 177.86L268.57 178.11L268.17 178.09L267.77 179.2L267.37 178.83L266.97 179.01L266.57 178.63L266.16 177.82L265.76 178.52L265.36 178.5L264.96 179.01L264.56 177L264.16 176.8L263.75 177.64L263.35 177.16L262.95 177.63L262.55 178.78L262.15 202.77L261.75 201.63L261.34 202.92L260.94 201.91L260.54 202.21L260.14 201.54L259.74 203.81L259.34 202.62L258.93 204.11L258.53 202.83L258.13 203.8L257.73 200.77L257.33 202.46L256.93 203.7L256.52 204.27L256.12 203.07L255.72 205.24L255.32 202.32L254.92 204.19L254.52 204.22L254.12 204.44L253.71 204.27L253.31 202.43L252.91 203.88L252.51 204.1L252.11 206.16L251.71 204.8L251.3 202.98L250.9 202.61L250.5 201.31L250.1 204.18L249.7 202.55L249.3 204.58L248.89 203.24L248.49 179.9L248.09 177.37L247.69 176.71L247.29 177.39L246.89 178.85L246.48 177.92L246.08 176.59L245.68 178.74L245.28 178.38L244.88 177.81L244.48 177.13L244.07 179.49L243.67 176.64L243.27 177.53L242.87 178.26L242.47 177.63L242.07 179.71L241.66 177.68L241.26 178.39L240.86 177.34L240.46 178.79L240.06 178.43L239.66 177.82L239.25 178.55L238.85 180.77L238.45 178.11L238.05 180.18L237.65 177.76L237.25 176.46L236.84 178.55L236.44 178.65L236.04 179.01L235.64 178L235.24 178.27L234.84 179.3L234.44 178.85L234.03 177.16L233.63 177.62L233.23 178.66L232.83 183.5L232.43 180.93L232.03 178.4L231.62 177.35L231.22 178.72L230.82 179.77L230.42 177.69L230.02 179.56L229.62 178.84L229.21 180.05L228.81 200.99L228.41 200.49L228.01 202.71L227.61 202.99L227.21 201.25L226.8 203.01L226.4 202.86L226 202.43L225.6 203.34L225.2 203.97L224.8 203.66L224.39 203.56L223.99 203.54L223.59 203.51L223.19 202.37L222.79 203.47L222.39 203.81L221.98 203.11L221.58 200.38L221.18 202.56L220.78 202.17L220.38 202.73L219.98 203.43L219.57 204.97L219.17 202.83L218.77 205.37L218.37 202.02L217.97 201.83L217.57 202.89L217.16 204.87L216.76 202.44L216.36 204.13L215.96 202.6L215.56 200.63L215.16 179.85L214.76 177.09L214.35 177.64L213.95 177.6L213.55 178.18L213.15 178.76L212.75 177.62L212.35 177.54L211.94 177.1L211.54 179.36L211.14 178.76L210.74 177.88L210.34 178.5L209.94 178.01L209.53 180.3L209.13 177.6L208.73 178.44L208.33 176.32L207.93 179.11L207.53 180.29L207.12 176.93L206.72 178.24L206.32 178.42L205.92 177.21L205.52 178.43L205.12 177.17L204.71 178.84L204.31 177.33L203.91 179.14L203.51 179.16L203.11 177.4L202.71 179.03L202.3 177.46L201.9 177.28L201.5 179.99L201.1 178.11L200.7 178.94L200.3 181.18L199.89 178.74L199.49 177.93L199.09 178.31L198.69 176.34L198.29 181.47L197.89 177.23L197.48 176.39L197.08 178.12L196.68 179.84L196.28 202.21L195.88 203.87L195.48 201.47L195.08 202.05L194.67 201.94L194.27 203.15L193.87 201.19L193.47 203.4L193.07 204.94L192.67 201.96L192.26 202.49L191.86 203.8L191.46 202.79L191.06 203.47L190.66 201.18L190.26 204.14L189.85 202.68L189.45 205.71L189.05 201.18L188.65 202.8L188.25 204.39L187.85 201.09L187.44 204.28L187.04 201.64L186.64 202.28L186.24 202.86L185.84 205.43L185.44 203.32L185.03 202.48L184.63 202.36L184.23 202.2L183.83 201.12L183.43 201.92L183.03 203.58L182.62 202.66L182.22 176.38L181.82 177.28L181.42 179.14L181.02 178.54L180.62 180.29L180.21 178.03L179.81 179.19L179.41 179.14L179.01 177.48L178.61 182.38L178.21 178.38L177.8 177L177.4 177.73L177 179.56L176.6 177.45Z" fill="#0b72c4"/>
<text x="176.6" y="226.3" font-size="10" text-anchor="middle">0</text>
<text x="225.8" y="226.3" font-size="10" text-anchor="middle">100</text>
<text x="275" y="226.3" font-size="10" text-anchor="middle">200</text>
<text x="173.6" y="145.66" font-size="10" text-anchor="end">0.1</text>
<text x="173.6" y="176.8" font-size="10" text-anchor="end">0</text>
<text x="173.6" y="207.94" font-size="10" text-anchor="end">-0.1</text>
<text x="230.2" y="238.3" font-size="10.0" text-anchor="middle">Time (ns)</text>
<text x="222.1" y="248.2" font-size="10.0" text-anchor="middle">(b-ii)</text>
<text x="155.3" y="172.3" font-size="10.5" text-anchor="middle" transform="rotate(-90 155.3 172.3)">Amplitude (a.u.)</text>
<path d="M173.9 338.4v-2.0M173.9 258.9v2.0M184.05 338.4v-2.0M184.05 258.9v2.0M194.2 338.4v-2.0M194.2 258.9v2.0M204.35 338.4v-2.0M204.35 258.9v2.0M214.5 338.4v-2.0M214.5 258.9v2.0M224.65 338.4v-2.0M224.65 258.9v2.0M234.8 338.4v-2.0M234.8 258.9v2.0M244.95 338.4v-2.0M244.95 258.9v2.0M255.1 338.4v-2.0M255.1 258.9v2.0M265.25 338.4v-2.0M265.25 258.9v2.0M275.4 338.4v-2.0M275.4 258.9v2.0M173.9 328.76h2.0M275.4 328.76h-2.0M173.9 298.65h2.0M275.4 298.65h-2.0M173.9 268.54h2.0M275.4 268.54h-2.0" stroke="#6b6b6b" stroke-width="0.8" fill="none"/>
<rect x="173.9" y="258.9" width="101.5" height="79.5" fill="none" stroke="#6b6b6b" stroke-width="1.1"/>
<path d="M173.9 291.91L174.3 297.08L174.71 292.82L175.11 293.76L175.51 292.44L175.91 293.43L176.32 291.91L176.72 293.8L177.12 294.38L177.53 293.22L177.93 292.04L178.33 292.21L178.73 293.9L179.14 293.07L179.54 293.09L179.94 294.35L180.34 294.22L180.75 295.74L181.15 292.06L181.55 293.53L181.96 292.42L182.36 293.39L182.76 291.78L183.16 292.21L183.57 293.5L183.97 291.89L184.37 294.83L184.78 292.51L185.18 295.39L185.58 293.47L185.98 292.71L186.39 292.64L186.79 294.22L187.19 294.68L187.59 294.19L188 292.52L188.4 292.89L188.8 294.11L189.21 294.67L189.61 293.12L190.01 271.57L190.41 270.6L190.82 270.82L191.22 269.26L191.62 267.49L192.03 269.56L192.43 269.75L192.83 270.76L193.23 267.12L193.64 268.55L194.04 270.08L194.44 269.37L194.84 270.17L195.25 268.96L195.65 269.34L196.05 269.12L196.46 269.67L196.86 267.36L197.26 270.42L197.66 270.39L198.07 270.2L198.47 269.4L198.87 270.7L199.28 270.72L199.68 269.28L200.08 268.82L200.48 269.44L200.89 272.87L201.29 271.05L201.69 271.17L202.09 271.31L202.5 270.47L202.9 267.2L203.3 270.37L203.71 294.61L204.11 290.97L204.51 293.76L204.91 292.57L205.32 294.56L205.72 293.83L206.12 293.37L206.52 295.85L206.93 293.59L207.33 292.69L207.73 290.62L208.14 294.37L208.54 294.91L208.94 294.03L209.34 295.09L209.75 294.19L210.15 291.41L210.55 293.69L210.96 292.6L211.36 294.07L211.76 291.96L212.16 292.37L212.57 295.24L212.97 294.2L213.37 294L213.77 293.53L214.18 292.19L214.58 293.11L214.98 295.41L215.39 294.12L215.79 292.94L216.19 294.8L216.59 291.7L217 294.95L217.4 293.3L217.8 294.59L218.21 292.92L218.61 293.46L219.01 293.7L219.41 293.91L219.82 292.63L220.22 294.81L220.62 294.6L221.02 295.01L221.43 292.43L221.83 294.14L222.23 294.93L222.64 294.27L223.04 291.2L223.44 293.95L223.84 269.15L224.25 268.16L224.65 270.06L225.05 270.77L225.46 270.39L225.86 270.42L226.26 271.02L226.66 267.31L227.07 269.07L227.47 269.67L227.87 270.26L228.27 270.87L228.68 269.04L229.08 270.24L229.48 269.54L229.89 271.5L230.29 269.64L230.69 266.18L231.09 270.35L231.5 269.2L231.9 268.44L232.3 268.88L232.71 268.92L233.11 269.98L233.51 270.47L233.91 269.74L234.32 270L234.72 270.69L235.12 269.56L235.52 269.59L235.93 270.98L236.33 268.33L236.73 266.96L237.14 269.18L237.54 269.94L237.94 289.53L238.34 294.31L238.75 296.44L239.15 295.84L239.55 295.43L239.96 293.05L240.36 292.8L240.76 296.12L241.16 292.65L241.57 295.13L241.97 291.62L242.37 292.64L242.77 293.38L243.18 293.82L243.58 293.65L243.98 295.03L244.39 293.54L244.79 292.8L245.19 290.82L245.59 291.08L246 292.69L246.4 293.07L246.8 289.66L247.21 293.58L247.61 295.19L248.01 296.19L248.41 292.49L248.82 293.23L249.22 292.25L249.62 294.18L250.02 293.47L250.43 291.85L250.83 293.48L251.23 295.01L251.64 294.29L252.04 292.37L252.44 294.98L252.84 296.55L253.25 296.25L253.65 295.24L254.05 292.99L254.46 293.74L254.86 294.63L255.26 295.19L255.66 293.16L256.07 294L256.47 294.43L256.87 293.22L257.27 292.86L257.68 291.93L258.08 272.54L258.48 269.91L258.89 271.11L259.29 269.3L259.69 270.29L260.09 269.66L260.5 269.48L260.9 269.83L261.3 268.11L261.71 271.51L262.11 269.04L262.51 270.27L262.91 269.64L263.32 268.4L263.72 268.86L264.12 267.95L264.52 272.41L264.93 271.05L265.33 269.03L265.73 271.23L266.14 270.23L266.54 268.24L266.94 269.12L267.34 268.51L267.75 269.56L268.15 269.36L268.55 269.97L268.96 270.15L269.36 269.89L269.76 271.62L270.16 269.91L270.57 270.8L270.97 269.63L271.37 267.58L271.77 270.98L272.18 293.19L272.58 290.84L272.98 293.88L273.39 293.07L273.79 294.16L274.19 294.13L274.59 293.75L275 293.89L275.4 292.63L275.4 304.43L275 304.17L274.59 303.53L274.19 303.73L273.79 302.21L273.39 304.4L272.98 302.55L272.58 303.78L272.18 302.38L271.77 327.17L271.37 326.57L270.97 328.15L270.57 326.23L270.16 330.4L269.76 327.78L269.36 326.44L268.96 326.88L268.55 330.03L268.15 328.54L267.75 327.64L267.34 327.02L266.94 326.12L266.54 327.12L266.14 328.7L265.73 328.73L265.33 327.33L264.93 328.65L264.52 326.99L264.12 326.47L263.72 328.14L263.32 327.33L262.91 328.11L262.51 328.71L262.11 327.89L261.71 325.4L261.3 327.74L260.9 329.04L260.5 324.97L260.09 327.57L259.69 326.39L259.29 328.79L258.89 326.88L258.48 326.89L258.08 327.43L257.68 306.69L257.27 304.3L256.87 302.82L256.47 301.96L256.07 303.94L255.66 303.66L255.26 303.57L254.86 301.8L254.46 303.47L254.05 303.69L253.65 302.57L253.25 301.91L252.84 306.09L252.44 302.28L252.04 305.41L251.64 301.39L251.23 303.17L250.83 304.66L250.43 302.08L250.02 304.49L249.62 302.74L249.22 302.78L248.82 305.67L248.41 304.55L248.01 306.26L247.61 304.61L247.21 304.42L246.8 301.76L246.4 306.08L246 302.07L245.59 302.57L245.19 302.82L244.79 301.24L244.39 302.46L243.98 304.51L243.58 304.62L243.18 304.62L242.77 304.12L242.37 303.33L241.97 303.75L241.57 302.12L241.16 302.87L240.76 305.09L240.36 303.31L239.96 303.73L239.55 302.14L239.15 302.36L238.75 303.83L238.34 303.95L237.94 303.57L237.54 327.46L237.14 326.11L236.73 327.56L236.33 327.17L235.93 326.64L235.52 327.48L235.12 327.61L234.72 327.34L234.32 327.78L233.91 327.52L233.51 326.63L233.11 326.2L232.71 328.53L232.3 327.06L231.9 326.01L231.5 330.12L231.09 328.42L230.69 328.13L230.29 325.48L229.89 327.13L229.48 325.17L229.08 327.18L228.68 329.49L228.27 327.83L227.87 326.93L227.47 327.06L227.07 325.72L226.66 327.45L226.26 328.6L225.86 330.16L225.46 327.31L225.05 327.08L224.65 326.24L224.25 326.92L223.84 327.7L223.44 302.84L223.04 301.91L222.64 301.27L222.23 302.13L221.83 304.88L221.43 303.13L221.02 303.4L220.62 302.87L220.22 303.1L219.82 304.99L219.41 303.5L219.01 304.28L218.61 302.37L218.21 304.26L217.8 303.86L217.4 303.76L217 302.72L216.59 304.29L216.19 302.89L215.79 303.56L215.39 303.15L214.98 304.41L214.58 302.47L214.18 304.47L213.77 304.02L213.37 303.22L212.97 302.24L212.57 303.82L212.16 303.32L211.76 302.26L211.36 304.04L210.96 302.97L210.55 303.47L210.15 304.05L209.75 302.23L209.34 304.82L208.94 303.58L208.54 303.9L208.14 306.82L207.73 303.75L207.33 301.77L206.93 302.92L206.52 302.36L206.12 303.24L205.72 304.26L205.32 302.88L204.91 304.11L204.51 302.62L204.11 304.73L203.71 301.1L203.3 328.48L202.9 325.49L202.5 326.56L202.09 327.14L201.69 328.97L201.29 326.31L200.89 328.14L200.48 327.42L200.08 328.76L199.68 328.04L199.28 327.43L198.87 324.99L198.47 325.98L198.07 326.08L197.66 327.95L197.26 328.62L196.86 327.77L196.46 328.51L196.05 327.32L195.65 327.78L195.25 328.85L194.84 325.31L194.44 327.25L194.04 327.41L193.64 328.91L193.23 326.51L192.83 328.13L192.43 325.47L192.03 326.7L191.62 327.15L191.22 327.88L190.82 330.31L190.41 326.76L190.01 325.65L189.61 303.46L189.21 302.59L188.8 303.53L188.4 304.67L188 304.07L187.59 304.4L187.19 305.17L186.79 304.94L186.39 305.36L185.98 306.13L185.58 303.86L185.18 304.16L184.78 301.11L184.37 304.62L183.97 302.16L183.57 304.36L183.16 304.1L182.76 304.31L182.36 303.46L181.96 304.09L181.55 305.33L181.15 300.98L180.75 303.94L180.34 306.09L179.94 305.45L179.54 303.92L179.14 301.92L178.73 303.54L178.33 302.32L177.93 303.26L177.53 303.95L177.12 303.72L176.72 305.37L176.32 305.95L175.91 302.39L175.51 303.95L175.11 303.82L174.71 302.59L174.3 306.79L173.9 304.19Z" fill="#0b72c4"/>
<text x="173.9" y="350.3" font-size="10" text-anchor="middle">0</text>
<text x="224.65" y="350.3" font-size="10" text-anchor="middle">100</text>
<text x="275.4" y="350.3" font-size="10" text-anchor="middle">200</text>
<text x="170.9" y="272.04" font-size="10" text-anchor="end">0.1</text>
<text x="170.9" y="302.15" font-size="10" text-anchor="end">0</text>
<text x="170.9" y="332.26" font-size="10" text-anchor="end">-0.1</text>
<text x="229" y="363.3" font-size="10.0" text-anchor="middle">Time (ns)</text>
<text x="224" y="373.9" font-size="10.0" text-anchor="middle">(c-ii)</text>
<text x="155.3" y="297.3" font-size="10.5" text-anchor="middle" transform="rotate(-90 155.3 297.3)">Amplitude (a.u.)</text>
<path d="M305.4 88.7v-2.0M305.4 8.5v2.0M325.61 88.7v-2.0M325.61 8.5v2.0M345.82 88.7v-2.0M345.82 8.5v2.0M366.03 88.7v-2.0M366.03 8.5v2.0M386.25 88.7v-2.0M386.25 8.5v2.0M406.46 88.7v-2.0M406.46 8.5v2.0M305.4 85.8h2.0M410.5 85.8h-2.0M305.4 76.14h2.0M410.5 76.14h-2.0M305.4 66.48h2.0M410.5 66.48h-2.0M305.4 56.81h2.0M410.5 56.81h-2.0M305.4 47.15h2.0M410.5 47.15h-2.0M305.4 37.49h2.0M410.5 37.49h-2.0M305.4 27.83h2.0M410.5 27.83h-2.0M305.4 18.16h2.0M410.5 18.16h-2.0M305.4 8.5h2.0M410.5 8.5h-2.0" stroke="#6b6b6b" stroke-width="0.8" fill="none"/>
<rect x="305.4" y="8.5" width="105.1" height="80.2" fill="none" stroke="#6b6b6b" stroke-width="1.1"/>
<clipPath id="ca"><rect x="305.4" y="8.5" width="105.1" height="80.2"/></clipPath>
<path d="M305.5 59L306.2 82.5L306.6 83.36L307.1 83.87L307.6 82.37L308.1 83.92L308.6 83.12L309.1 82.77L309.6 82.76L310.1 82.62L310.6 82.99L311.1 83.45L311.6 83.33L312.1 83.34L312.6 82.27L313.1 82.31L313.6 83.71L314.1 83.43L314.6 83.96L315.1 83.51L315.6 82.49L316.1 83.52L316.6 83.21L317.1 83.01L317.6 82.53L318.1 82.89L318.6 82.8L319.1 83.26L319.6 82.9L320.1 83.54L320.6 82.47L321.1 83.01L321.6 83.01L322.1 82.39L322.6 82.23L323.1 83.2L323.6 82.97L324.1 82.65L324.6 82.88L325.1 82.39L325.6 82.79L326.1 82.39L326.6 82.74L327.1 83.08L327.6 82.47L328.1 82.99L328.6 82.13L329.1 82.45L329.6 81.95L330.1 82.51L330.6 82.58L331.1 82.44L331.6 82.39L332.1 83.1L332.6 83.13L333.1 81.92L333.6 82.99L334.1 81.67L334.6 82.1L335.1 82.34L335.6 82.45L336.1 81.92L336.6 82.05L337.1 82.4L337.6 82.04L338.1 82.05L338.6 82.62L339.1 82.73L339.6 82.27L340.1 82.29L340.6 82.26L341.1 82.05L341.6 82.01L342.1 81.76L342.6 82.5L344.5 81L345.5 79L346 7L347 16L348.5 20.5L349 21.16L349.5 21.15L350 21.31L350.5 21.46L351 21.87L351.5 21.12L352 21.07L352.5 21.35L353 20.88L353.5 21.84L354 21.7L354.5 21.6L355 21.24L355.5 21.64L356 21.78L356.5 21.54L357 21.2L357.5 20.58L358 21.77L358.5 21.19L359 20.98L359.5 21.77L360 21.53L360.5 20.74L361 21.35L361.5 21.28L362.1 18L362.4 0L362.6 95L363.3 73L364.5 78.5L366 82.3L366.5 82.95L367 81.56L367.5 82.16L368 82.19L368.5 82.81L369 81.6L369.5 80.68L370 81.3L370.5 81.96L371 82.12L371.5 82.45L372 81.77L372.5 81.15L373 81.82L373.5 81.34L374 81.17L374.5 81.19L375 81.67L375.5 80.61L376 80.47L376.5 80.82L377 80.73L377.5 80.32L378 80.2L378.5 80.69L379.2 80L379.7 0L381 14L382 20L383 17.5L384 21L384.5 22.1L385 21.82L385.5 21.81L386 22.06L386.5 20.6L387 20.82L387.6 0L387.8 95L388.5 0L388.9 95L389.5 73L390.5 80L391.5 82.4L392 82.08L392.5 81.81L393 81.85L393.5 82.27L394 81.61L394.5 81.94L395 81.16L395.5 81.59L396.3 78L397.2 25L398.2 12.3L399 16L400 20.5L400.5 22.11L401 21.26L401.5 21.65L402 21.82L402.5 21.28L403 21.76L403.5 21.6L404.5 0L404.8 95L405.5 75.5L406.5 80L408 83L409.5 83.5L410.5 80" stroke="#ff0f0f" stroke-width="1.05" fill="none" clip-path="url(#ca)" stroke-linejoin="round"/>
<text x="305.4" y="100.6" font-size="10" text-anchor="middle">0</text>
<text x="345.82" y="100.6" font-size="10" text-anchor="middle">10</text>
<text x="386.25" y="100.6" font-size="10" text-anchor="middle">20</text>
<text x="302.8" y="12.1" font-size="10" text-anchor="end">4</text>
<text x="302.8" y="31.43" font-size="10" text-anchor="end">3</text>
<text x="302.8" y="50.75" font-size="10" text-anchor="end">2</text>
<text x="302.8" y="70.08" font-size="10" text-anchor="end">1</text>
<text x="302.8" y="89.4" font-size="10" text-anchor="end">0</text>
<text x="360.75" y="113.3" font-size="10.0" text-anchor="middle">Time (ns)</text>
<text x="358.4" y="124.7" font-size="10.0" text-anchor="middle">(a-iii)</text>
<text x="294.3" y="42.5" font-size="11" text-anchor="middle" transform="rotate(-90 294.3 42.5)">Phase (rad)</text>
<path d="M305.2 214.2v-2.0M305.2 132.6v2.0M325.49 214.2v-2.0M325.49 132.6v2.0M345.78 214.2v-2.0M345.78 132.6v2.0M366.07 214.2v-2.0M366.07 132.6v2.0M386.35 214.2v-2.0M386.35 132.6v2.0M406.64 214.2v-2.0M406.64 132.6v2.0M305.2 211.25h2.0M410.7 211.25h-2.0M305.2 201.42h2.0M410.7 201.42h-2.0M305.2 191.59h2.0M410.7 191.59h-2.0M305.2 181.76h2.0M410.7 181.76h-2.0M305.2 171.93h2.0M410.7 171.93h-2.0M305.2 162.09h2.0M410.7 162.09h-2.0M305.2 152.26h2.0M410.7 152.26h-2.0M305.2 142.43h2.0M410.7 142.43h-2.0M305.2 132.6h2.0M410.7 132.6h-2.0" stroke="#6b6b6b" stroke-width="0.8" fill="none"/>
<rect x="305.2" y="132.6" width="105.5" height="81.6" fill="none" stroke="#6b6b6b" stroke-width="1.1"/>
<clipPath id="cb"><rect x="305.2" y="132.6" width="105.5" height="81.6"/></clipPath>
<path d="M305.2 194L306.5 209L307 208.87L307.5 208.95L308 208.9L308.5 209.2L309 210.12L309.5 208.75L310 209.89L310.5 210.02L311 209.29L311.5 209.13L312 209.65L312.5 209.97L313 210.39L313.5 209.82L314 210.13L314.5 209.2L315 209L315.5 208.61L316 208.86L316.5 209.21L317 209.46L317.5 208.77L318 209.72L318.5 209.3L319 209.05L319.5 208.99L320 210.24L320.5 209.4L321 208.91L321.5 208.88L322 210.13L322.5 209.04L323 209.82L323.5 209.92L324 208.23L324.5 209.88L325 209.17L325.5 208.77L326 209.01L326.5 209.5L327 209.41L327.5 209.42L328 208.9L328.5 209.79L329 209.89L329.5 210.03L330 209.65L330.5 210.04L331 210.13L331.5 209.49L332 209.57L332.5 209.43L333 209.41L333.5 209.54L334 208.38L334.5 208.99L335 209.35L335.5 208.18L336 208.47L336.5 209.82L337 208.63L337.5 208.89L338 209.26L338.5 208.87L339 208.69L339.5 208.84L340 208.87L340.5 208.8L341 209.13L341.5 209.77L342 209.2L342.5 209.76L343 209.36L343.5 209.4L344 209.28L344.5 208.87L345.4 209L345.9 137L346.8 146L348 150L349.5 151.5L350 151.79L350.5 151.74L351 151.1L351.5 151.94L352 151.86L352.5 151.77L353 151.35L353.5 150.41L354 152.26L354.5 151.57L355 150.62L355.5 151.89L356 151.29L356.5 151.91L357 151.55L357.5 152.11L358 151.71L358.5 151.73L359 151.67L359.5 152.15L360 151.02L360.5 152.13L361 151.91L361.5 151.35L362.1 147L362.4 145L362.7 152L363 191.7L363.8 203.6L365 207L367.3 209.5L367.5 209.5L368 209.28L368.5 209.48L369 209.86L369.5 209.11L370 209.73L370.5 209.8L371 209.64L371.5 210.03L372 209.28L372.5 209.6L373 210.38L373.5 209.26L374 209.16L374.5 209.21L375 209.45L375.5 208.88L376 209.03L376.5 208.33L377 208.63L377.5 208.62L378 208.53L378.5 208.83L379 209.32L379.6 209L380 139.3L381 147L382.6 151.6L383 151.43L383.5 151L384 151.71L384.5 151.68L385 150.97L385.5 151.67L386 151.12L386.5 151.32L387 151.27L387.5 151.97L387.9 155L388.4 209.5L389 206L389.7 201.2L390.5 207L391.5 209.5L392 209.13L392.5 209.36L393 209.58L393.5 209.96L394 210.03L394.5 209.04L395 210.03L395.5 209.63L396 210.04L396.7 209L397.1 141.5L398.5 148L400.4 151.6L400.8 152.07L401.3 151.36L401.8 151.62L402.3 151.47L402.8 151.77L403.3 152.34L403.8 151.62L404.3 151.3L404.8 154L405.5 198.8L406.5 203L408 207L409.8 209.5L410.7 208" stroke="#ff0f0f" stroke-width="1.05" fill="none" clip-path="url(#cb)" stroke-linejoin="round"/>
<text transform="translate(305.2 226.1) scale(0.75 1)" font-size="10" text-anchor="middle">0</text>
<text transform="translate(345.78 226.1) scale(0.75 1)" font-size="10" text-anchor="middle">10</text>
<text transform="translate(386.35 226.1) scale(0.75 1)" font-size="10" text-anchor="middle">20</text>
<text transform="translate(302.2 135.6) scale(0.72 1)" font-size="10" text-anchor="end">4</text>
<text transform="translate(302.2 155.26) scale(0.72 1)" font-size="10" text-anchor="end">3</text>
<text transform="translate(302.2 174.93) scale(0.72 1)" font-size="10" text-anchor="end">2</text>
<text transform="translate(302.2 194.59) scale(0.72 1)" font-size="10" text-anchor="end">1</text>
<text transform="translate(302.2 214.25) scale(0.72 1)" font-size="10" text-anchor="end">0</text>
<text x="359" y="238.8" font-size="10.0" text-anchor="middle">Time (ns)</text>
<text x="357.5" y="249.5" font-size="10.0" text-anchor="middle">(b-iii)</text>
<text x="294.6" y="171" font-size="11" text-anchor="middle" transform="rotate(-90 294.6 171)">Phase (rad)</text>
<path d="M303.6 339.4v-2.0M303.6 258.4v2.0M323.85 339.4v-2.0M323.85 258.4v2.0M344.1 339.4v-2.0M344.1 258.4v2.0M364.35 339.4v-2.0M364.35 258.4v2.0M384.6 339.4v-2.0M384.6 258.4v2.0M404.85 339.4v-2.0M404.85 258.4v2.0M303.6 336.47h2.0M408.9 336.47h-2.0M303.6 326.71h2.0M408.9 326.71h-2.0M303.6 316.95h2.0M408.9 316.95h-2.0M303.6 307.2h2.0M408.9 307.2h-2.0M303.6 297.44h2.0M408.9 297.44h-2.0M303.6 287.68h2.0M408.9 287.68h-2.0M303.6 277.92h2.0M408.9 277.92h-2.0M303.6 268.16h2.0M408.9 268.16h-2.0M303.6 258.4h2.0M408.9 258.4h-2.0" stroke="#6b6b6b" stroke-width="0.8" fill="none"/>
<rect x="303.6" y="258.4" width="105.3" height="81" fill="none" stroke="#6b6b6b" stroke-width="1.1"/>
<clipPath id="cc"><rect x="303.6" y="258.4" width="105.3" height="81"/></clipPath>
<path d="M303.6 328.6L304 329.05L304.5 328.89L305 328.76L305.5 327.74L306 328.97L306.5 327.81L307 329.17L307.5 329.03L308 329.12L308.5 329.12L309 328.87L309.5 328.49L310 328.59L310.5 329.4L311 328.45L311.5 328.6L312 328.37L312.5 328.46L313 328.55L313.5 328.79L314 328.54L314.5 328.51L315 328.38L315.5 328.69L316 328.04L316.5 328.66L317 329.22L317.5 328.28L318 328.6L318.5 329.88L319 328.16L319.5 327.87L320 328.4L320.5 329.4L321 329.5L321.5 328.03L322 328.83L322.5 328.57L323 328.29L323.5 327.68L324 329.01L324.5 328.15L325 328.67L325.5 328.56L326 329.36L326.5 329.04L327 327.99L327.5 328.38L328 328.96L328.5 327.89L329 328.3L329.5 328.58L330 327.74L330.5 327.91L331 327.69L331.5 328.58L332 328.19L332.5 328.85L333 328.48L333.5 328.68L334 328.38L334.5 328.75L335 328.36L335.5 327.96L336 328.92L336.5 328.83L337 329.4L337.5 328.31L338 328.11L338.5 327.71L339 326.62L339.5 327.76L340 328.56L340.5 327.94L341 327.16L341.5 328.6L342 328.05L342.5 328.15L343 328.11L343.5 327L343.8 345L344.1 250L344.8 265L345.6 264.3L346 264.24L346.5 264.51L347 263.5L347.5 264.18L348 264.04L348.5 264.78L349 263.79L349.5 264.99L350 264.52L350.5 264.97L351 263.91L351.5 264.58L352 264.38L352.5 263.53L353 264.08L353.5 263.99L354 263.75L354.5 263.83L355 263.52L355.5 263.95L356 264.31L356.5 263.8L357 263.44L357.5 264.6L358 263.96L358.5 264.13L359 264.01L359.5 263.86L360.1 264L360.3 250L360.6 345L361.7 318L362.8 325L364.5 328L366 328.8L366.5 329.07L367 328.55L367.5 328.78L368 328.11L368.5 328.01L369 328.55L369.5 329.57L370 328.78L370.5 329.56L371 328.87L371.5 328.86L372 328.38L372.5 328.62L373 329.42L373.5 329.13L374 328.3L374.5 328.36L375 329.16L375.5 328.31L376 328.94L376.5 328.1L377.3 328L377.5 345L377.9 250L378.8 262L379.5 260L380.5 265L381 265.48L381.5 265.89L382 265.58L382.5 265.31L383 265.26L383.5 265.16L384 265.19L384.5 265.73L385.3 265L385.5 250L385.8 345L386.4 315.6L387.5 325L389 328.8L389.5 329.32L390 328.95L390.5 328.17L391 328.47L391.5 328.8L392 328.66L392.5 327.99L393 328.87L393.5 329.7L394.3 328L394.5 345L394.8 250L396 263L397 265L397.5 263.95L398 264.53L398.5 265.23L399 264.31L399.5 264.32L400 264.58L400.5 264.76L401.5 262L402.3 264.5L402.8 266L403.3 290L403.9 318L405 323L406.5 327L408.9 329" stroke="#ff0f0f" stroke-width="1.05" fill="none" clip-path="url(#cc)" stroke-linejoin="round"/>
<text x="303.6" y="351.3" font-size="10" text-anchor="middle">0</text>
<text x="344.1" y="351.3" font-size="10" text-anchor="middle">10</text>
<text x="384.6" y="351.3" font-size="10" text-anchor="middle">20</text>
<text transform="translate(301.8 261.4) scale(0.72 1)" font-size="10" text-anchor="end">4</text>
<text transform="translate(301.8 280.92) scale(0.72 1)" font-size="10" text-anchor="end">3</text>
<text transform="translate(301.8 300.44) scale(0.72 1)" font-size="10" text-anchor="end">2</text>
<text transform="translate(301.8 319.95) scale(0.72 1)" font-size="10" text-anchor="end">1</text>
<text transform="translate(301.8 339.47) scale(0.72 1)" font-size="10" text-anchor="end">0</text>
<text x="360.8" y="362.9" font-size="10.0" text-anchor="middle">Time (ns)</text>
<text x="358.5" y="373.9" font-size="10.0" text-anchor="middle">(c-iii)</text>
<text x="293.8" y="293.8" font-size="10.5" text-anchor="middle" transform="rotate(-90 293.8 293.8)">Phase (rad)</text>
<path d="M443.11 88.7v-2.0M443.11 8.4v2.0M453.16 88.7v-2.0M453.16 8.4v2.0M463.21 88.7v-2.0M463.21 8.4v2.0M473.25 88.7v-2.0M473.25 8.4v2.0M483.3 88.7v-2.0M483.3 8.4v2.0M493.35 88.7v-2.0M493.35 8.4v2.0M503.4 88.7v-2.0M503.4 8.4v2.0M513.45 88.7v-2.0M513.45 8.4v2.0M523.49 88.7v-2.0M523.49 8.4v2.0M533.54 88.7v-2.0M533.54 8.4v2.0M543.59 88.7v-2.0M543.59 8.4v2.0M440.7 88.7h2.0M546 88.7h-2.0M440.7 48.55h2.0M546 48.55h-2.0M440.7 8.4h2.0M546 8.4h-2.0" stroke="#6b6b6b" stroke-width="0.8" fill="none"/>
<rect x="440.7" y="8.4" width="105.3" height="80.3" fill="none" stroke="#6b6b6b" stroke-width="1.1"/>
<path d="M440.7 88.7L440.7 87.74L440.95 87.74L441.2 87.56L441.45 87.23L441.7 86.85L441.95 86.44L442.2 86.02L442.45 85.61L442.71 85.24L442.96 84.94L443.21 84.73L443.46 84.63L443.71 84.65L443.96 84.78L444.21 85.01L444.46 85.34L444.71 85.72L444.96 86.13L445.21 86.55L445.46 86.95L445.71 87.32L445.96 87.64L446.22 87.74L446.47 87.74L446.72 87.72L446.97 87.47L447.22 87.24L447.47 87.04L447.72 86.92L447.97 86.88L448.22 86.93L448.47 87.07L448.72 87.28L448.97 87.52L449.22 87.74L449.47 87.64L449.73 87.32L449.98 86.95L450.23 86.54L450.48 86.11L450.73 85.66L450.98 85.23L451.23 84.83L451.48 84.51L451.73 84.27L451.98 84.13L452.23 84.11L452.48 84.21L452.73 84.41L452.99 84.72L453.24 85.09L453.49 85.51L453.74 85.96L453.99 86.4L454.24 86.82L454.49 87.2L454.74 87.54L454.99 87.74L455.24 87.74L455.49 87.74L455.74 87.74L455.99 87.74L456.24 87.74L456.5 87.74L456.75 87.74L457 87.74L457.25 87.73L457.5 87.41L457.75 87.03L458 86.59L458.25 86.08L458.5 85.54L458.75 84.96L459 84.38L459.25 83.83L459.5 83.32L459.75 82.9L460 82.59L460.26 82.41L460.51 82.37L460.76 82.48L461.01 82.72L461.26 83.08L461.51 83.54L461.76 84.07L462.01 84.64L462.26 84.28L462.51 83.88L462.76 83.61L463.01 83.5L463.26 83.56L463.51 83.78L463.77 84.15L464.02 84.63L464.27 85.18L464.52 85.65L464.77 84.89L465.02 84.04L465.27 83.11L465.52 82.14L465.77 81.15L466.02 80.19L466.27 79.31L466.52 78.54L466.77 77.94L467.02 77.53L467.28 77.35L467.53 77.4L467.78 77.67L468.03 78.16L468.28 78.84L468.53 79.65L468.78 80.57L469.03 81.55L469.28 82.54L469.53 83.49L469.78 84.39L470.03 85.21L470.28 85.93L470.53 86.55L470.79 87.06L471.04 87.48L471.29 87.74L471.54 87.74L471.79 87.74L472.04 87.74L472.29 87.74L472.54 87.58L472.79 87.33L473.04 87.14L473.29 87.06L473.54 87.09L473.79 87.23L474.04 87.46L474.3 87.73L474.55 87.74L474.8 87.67L475.05 87.37L475.3 87.02L475.55 86.62L475.8 86.17L476.05 85.68L476.3 85.18L476.55 84.68L476.8 84.2L477.05 83.76L477.3 83.4L477.56 83.12L477.81 82.95L478.06 82.89L478.31 82.95L478.56 83.13L478.81 83.41L479.06 83.78L479.31 84.22L479.56 84.7L479.81 85.21L480.06 85.71L480.31 86.19L480.56 86.64L480.81 87.04L481.06 87.39L481.32 87.69L481.57 87.74L481.82 87.74L482.07 87.74L482.32 87.74L482.57 87.74L482.82 87.74L483.07 87.52L483.32 87.18L483.57 86.77L483.82 86.29L484.07 85.77L484.32 85.2L484.57 84.61L484.83 84.02L485.08 83.45L485.33 82.93L485.58 82.49L485.83 82.15L486.08 81.93L486.33 81.85L486.58 81.91L486.83 82.1L487.08 82.43L487.33 82.85L487.58 83.36L487.83 83.93L488.08 84.52L488.34 85.11L488.59 84.85L488.84 81.98L489.09 78.95L489.34 75.01L489.59 71.08L489.84 67.14L490.09 63.15L490.34 59.13L490.59 55.1L490.84 51.07L491.09 46.75L491.34 41.91L491.59 37.08L491.85 32.46L492.1 28.18L492.35 23.91L492.6 19.87L492.85 16.85L493.1 13.83L493.35 10.81L493.6 9.01L493.85 12.03L494.1 15.05L494.35 18.07L494.6 21.36L494.85 25.64L495.11 29.92L495.36 34.21L495.61 39.04L495.86 43.87L496.11 48.68L496.36 52.7L496.61 56.73L496.86 60.76L497.11 64.78L497.36 68.73L497.61 72.67L497.86 76.61L498.11 80.27L498.36 83.14L498.62 84.99L498.87 84.4L499.12 83.81L499.37 83.25L499.62 82.76L499.87 82.35L500.12 82.05L500.37 81.89L500.62 81.85L500.87 81.96L501.12 82.21L501.37 82.57L501.62 83.03L501.87 83.56L502.12 84.14L502.38 84.73L502.63 85.32L502.88 85.88L503.13 86.39L503.38 86.85L503.63 87.25L503.88 87.59L504.13 87.74L504.38 87.74L504.63 87.74L504.88 87.74L505.13 87.74L505.38 87.74L505.63 87.57L505.89 87.24L506.14 86.86L506.39 86.42L506.64 85.94L506.89 85.42L507.14 84.89L507.39 84.36L507.64 83.85L507.89 83.4L508.14 83.03L508.39 82.75L508.64 82.59L508.89 82.54L509.14 82.63L509.4 82.84L509.65 83.15L509.9 83.56L510.15 84.03L510.4 84.54L510.65 85.08L510.9 85.61L511.15 86.11L511.4 86.58L511.65 87L511.9 87.36L512.15 87.67L512.4 87.74L512.65 87.74L512.91 87.74L513.16 87.74L513.41 87.74L513.66 87.74L513.91 87.74L514.16 87.74L514.41 87.74L514.66 87.74L514.91 87.74L515.16 87.74L515.41 87.74L515.66 87.74L515.91 87.48L516.16 87.07L516.42 86.55L516.67 85.92L516.92 85.18L517.17 84.34L517.42 83.41L517.67 82.41L517.92 81.37L518.17 80.34L518.42 79.36L518.67 78.47L518.92 77.73L519.17 77.17L519.42 76.83L519.67 76.73L519.93 76.88L520.18 77.26L520.43 77.86L520.68 78.64L520.93 79.55L521.18 80.54L521.43 81.58L521.68 82.61L521.93 83.6L522.18 84.52L522.43 85.34L522.68 86.05L522.93 86.27L523.18 85.76L523.44 85.23L523.69 84.68L523.94 84.14L524.19 83.63L524.44 83.18L524.69 82.81L524.94 82.54L525.19 82.4L525.44 82.38L525.69 82.49L525.94 82.72L526.19 83.07L526.44 83.5L526.69 83.99L526.95 84.53L527.2 85.08L527.45 85.62L527.7 86.14L527.95 86.61L528.2 87.03L528.45 87.39L528.7 87.69L528.95 87.74L529.2 87.74L529.45 87.74L529.7 87.74L529.95 87.74L530.21 87.74L530.46 87.74L530.71 87.74L530.96 87.74L531.21 87.74L531.46 87.74L531.71 87.74L531.96 87.74L532.21 87.47L532.46 87.13L532.71 86.74L532.96 86.31L533.21 85.87L533.46 85.42L533.72 85.01L533.97 84.65L534.22 84.36L534.47 84.18L534.72 84.1L534.97 84.15L535.22 84.31L535.47 84.57L535.72 84.91L535.97 85.31L536.22 85.75L536.47 86.2L536.72 86.63L536.97 87.03L537.23 87.39L537.48 87.7L537.73 87.74L537.98 87.59L538.23 87.32L538.48 87.1L538.73 86.98L538.98 86.98L539.23 87.11L539.48 87.33L539.73 87.61L539.98 87.74L540.23 87.74L540.48 87.74L540.74 87.74L540.99 87.74L541.24 87.52L541.49 87.18L541.74 86.79L541.99 86.38L542.24 85.96L542.49 85.56L542.74 85.2L542.99 84.91L543.24 84.71L543.49 84.63L543.74 84.66L543.99 84.81L544.25 85.05L544.5 85.39L544.75 85.77L545 86.19L545.25 86.61L545.5 87.01L545.75 87.37L546 87.68L546 88.7Z" fill="#0b72c4"/>
<path d="M491.65 88.7V84.34M493.75 88.7V83.32M495.85 88.7V84.58" stroke="#fff" stroke-width="0.6" opacity="0.8"/>
<text x="453.16" y="100.6" font-size="10" text-anchor="middle">-20</text>
<text x="493.35" y="100.6" font-size="10" text-anchor="middle">0</text>
<text x="533.54" y="100.6" font-size="10" text-anchor="middle">20</text>
<text x="437.7" y="12" font-size="10" text-anchor="end">1</text>
<text x="437.7" y="92.3" font-size="10" text-anchor="end">0</text>
<text transform="translate(437.7 52.15) scale(0.82 1)" font-size="10" text-anchor="end">0.5</text>
<text x="498.9" y="113.3" font-size="10.0" text-anchor="middle">Time (ns)</text>
<text x="496.75" y="124.7" font-size="10.0" text-anchor="middle">(a-iiii)</text>
<text x="425.6" y="42" font-size="10.5" text-anchor="middle" transform="rotate(-90 425.6 42)">Amplitude (a.u.)</text>
<text x="463" y="43.8" font-size="10.3">2.34ns</text>
<text x="509.2" y="39.8" font-size="10.3">8.9dB</text>
<path d="M482.15 48.6h6.5M505.15 48.6h-6.5" stroke="#ff2020" stroke-width="1.15"/>
<path d="M490.75 48.6l-4 -2.2v4.4z M496.55 48.6l4 -2.2v4.4z" fill="#ff2020"/>
<path d="M519.1 10.7V28M519.1 45.3V76.9" stroke="#111" stroke-width="1"/>
<path d="M516.8 14.8L519.1 10.2L521.4 14.8M516.8 72.8L519.1 77.4L521.4 72.8" stroke="#111" stroke-width="1" fill="none"/>
<path d="M443.2 213.7v-2.0M443.2 133.2v2.0M453.21 213.7v-2.0M453.21 133.2v2.0M463.22 213.7v-2.0M463.22 133.2v2.0M473.23 213.7v-2.0M473.23 133.2v2.0M483.24 213.7v-2.0M483.24 133.2v2.0M493.25 213.7v-2.0M493.25 133.2v2.0M503.26 213.7v-2.0M503.26 133.2v2.0M513.27 213.7v-2.0M513.27 133.2v2.0M523.28 213.7v-2.0M523.28 133.2v2.0M533.29 213.7v-2.0M533.29 133.2v2.0M543.3 213.7v-2.0M543.3 133.2v2.0M440.8 213.7h2.0M545.7 213.7h-2.0M440.8 173.45h2.0M545.7 173.45h-2.0M440.8 133.2h2.0M545.7 133.2h-2.0" stroke="#6b6b6b" stroke-width="0.8" fill="none"/>
<rect x="440.8" y="133.2" width="104.9" height="80.5" fill="none" stroke="#6b6b6b" stroke-width="1.1"/>
<path d="M440.8 213.7L440.8 212.73L441.05 212.56L441.3 212.22L441.55 211.84L441.8 211.43L442.05 211.01L442.31 210.6L442.56 210.23L442.81 209.93L443.06 209.72L443.31 209.62L443.56 209.64L443.81 209.77L444.06 210.01L444.31 210.33L444.56 210.71L444.82 211.13L445.07 211.55L445.32 211.95L445.57 212.32L445.82 212.64L446.07 212.73L446.32 212.73L446.57 212.72L446.82 212.47L447.07 212.23L447.32 212.04L447.58 211.91L447.83 211.87L448.08 211.93L448.33 212.07L448.58 212.28L448.83 212.52L449.08 212.73L449.33 212.63L449.58 212.31L449.83 211.94L450.09 211.52L450.34 211.09L450.59 210.64L450.84 210.2L451.09 209.81L451.34 209.49L451.59 209.25L451.84 209.12L452.09 209.1L452.34 209.2L452.59 209.41L452.85 209.72L453.1 210.1L453.35 210.52L453.6 210.97L453.85 211.41L454.1 211.83L454.35 212.21L454.6 212.55L454.85 212.73L455.1 212.73L455.36 212.73L455.61 212.73L455.86 212.73L456.11 212.73L456.36 212.73L456.61 212.73L456.86 212.73L457.11 212.71L457.36 212.39L457.61 212L457.87 211.55L458.12 211.04L458.37 210.49L458.62 209.91L458.87 209.33L459.12 208.78L459.37 208.28L459.62 207.86L459.87 207.56L460.12 207.39L460.37 207.36L460.63 207.48L460.88 207.73L461.13 208.1L461.38 208.57L461.63 209.1L461.88 209.68L462.13 209.23L462.38 208.84L462.63 208.58L462.88 208.48L463.14 208.56L463.39 208.8L463.64 209.18L463.89 209.66L464.14 210.22L464.39 210.58L464.64 209.81L464.89 208.94L465.14 208.01L465.39 207.03L465.64 206.04L465.9 205.08L466.15 204.2L466.4 203.45L466.65 202.86L466.9 202.48L467.15 202.32L467.4 202.39L467.65 202.69L467.9 203.2L468.15 203.89L468.41 204.72L468.66 205.65L468.91 206.64L469.16 207.63L469.41 208.58L469.66 209.48L469.91 210.29L470.16 211L470.41 211.6L470.66 212.11L470.91 212.51L471.17 212.73L471.42 212.73L471.67 212.73L471.92 212.73L472.17 212.73L472.42 212.55L472.67 212.3L472.92 212.12L473.17 212.05L473.42 212.1L473.68 212.25L473.93 212.49L474.18 212.73L474.43 212.73L474.68 212.64L474.93 212.33L475.18 211.97L475.43 211.55L475.68 211.1L475.93 210.61L476.18 210.1L476.44 209.6L476.69 209.12L476.94 208.7L477.19 208.34L477.44 208.07L477.69 207.92L477.94 207.88L478.19 207.96L478.44 208.15L478.69 208.45L478.95 208.83L479.2 209.28L479.45 209.77L479.7 210.27L479.95 210.77L480.2 211.25L480.45 211.7L480.7 212.09L480.95 212.44L481.2 212.73L481.46 212.73L481.71 212.73L481.96 212.73L482.21 212.73L482.46 212.73L482.71 212.73L482.96 212.47L483.21 212.11L483.46 211.69L483.71 211.21L483.96 210.67L484.22 210.1L484.47 209.5L484.72 208.91L484.97 208.34L485.22 207.83L485.47 207.41L485.72 207.08L485.97 206.89L486.22 206.83L486.47 206.92L486.73 207.14L486.98 207.48L487.23 207.92L487.48 208.44L487.73 209.02L487.98 209.61L488.23 210.21L488.48 209.32L488.73 206.44L488.98 203.2L489.23 199.25L489.49 195.3L489.74 191.35L489.99 187.34L490.24 183.29L490.49 179.25L490.74 175.21L490.99 170.72L491.24 165.87L491.49 161.02L491.74 156.49L492 152.2L492.25 147.91L492.5 144.1L492.75 141.07L493 138.04L493.25 135.01L493.5 134.42L493.75 137.45L494 140.48L494.25 143.51L494.5 147.07L494.76 151.36L495.01 155.65L495.26 160.07L495.51 164.92L495.76 169.77L496.01 174.42L496.26 178.46L496.51 182.51L496.76 186.55L497.01 190.58L497.27 194.53L497.52 198.48L497.77 202.43L498.02 205.88L498.27 208.76L498.52 209.85L498.77 209.25L499.02 208.67L499.27 208.12L499.52 207.64L499.77 207.26L500.03 206.99L500.28 206.85L500.53 206.85L500.78 206.99L501.03 207.26L501.28 207.65L501.53 208.13L501.78 208.68L502.03 209.26L502.28 209.86L502.54 210.45L502.79 211L503.04 211.5L503.29 211.95L503.54 212.33L503.79 212.66L504.04 212.73L504.29 212.73L504.54 212.73L504.79 212.73L505.04 212.73L505.3 212.73L505.55 212.49L505.8 212.15L506.05 211.75L506.3 211.3L506.55 210.81L506.8 210.28L507.05 209.74L507.3 209.22L507.55 208.72L507.81 208.29L508.06 207.93L508.31 207.68L508.56 207.55L508.81 207.54L509.06 207.66L509.31 207.89L509.56 208.24L509.81 208.66L510.06 209.15L510.32 209.67L510.57 210.21L510.82 210.74L511.07 211.24L511.32 211.69L511.57 212.1L511.82 212.45L512.07 212.73L512.32 212.73L512.57 212.73L512.82 212.73L513.08 212.73L513.33 212.73L513.58 212.73L513.83 212.73L514.08 212.73L514.33 212.73L514.58 212.73L514.83 212.73L515.08 212.73L515.33 212.73L515.59 212.73L515.84 212.37L516.09 211.92L516.34 211.37L516.59 210.71L516.84 209.94L517.09 209.07L517.34 208.11L517.59 207.09L517.84 206.05L518.09 205.02L518.35 204.06L518.6 203.2L518.85 202.51L519.1 202.02L519.35 201.75L519.6 201.72L519.85 201.94L520.1 202.4L520.35 203.05L520.6 203.88L520.86 204.82L521.11 205.84L521.36 206.88L521.61 207.91L521.86 208.88L522.11 209.77L522.36 210.56L522.61 211.25L522.86 211.11L523.11 210.59L523.36 210.05L523.62 209.49L523.87 208.96L524.12 208.46L524.37 208.03L524.62 207.69L524.87 207.47L525.12 207.36L525.37 207.38L525.62 207.54L525.87 207.81L526.13 208.18L526.38 208.64L526.63 209.16L526.88 209.7L527.13 210.25L527.38 210.79L527.63 211.29L527.88 211.75L528.13 212.15L528.38 212.5L528.63 212.73L528.89 212.73L529.14 212.73L529.39 212.73L529.64 212.73L529.89 212.73L530.14 212.73L530.39 212.73L530.64 212.73L530.89 212.73L531.14 212.73L531.4 212.73L531.65 212.73L531.9 212.67L532.15 212.35L532.4 211.99L532.65 211.58L532.9 211.15L533.15 210.7L533.4 210.26L533.65 209.86L533.91 209.53L534.16 209.27L534.41 209.13L534.66 209.1L534.91 209.18L535.16 209.38L535.41 209.67L535.66 210.04L535.91 210.46L536.16 210.91L536.41 211.35L536.67 211.78L536.92 212.16L537.17 212.51L537.42 212.73L537.67 212.73L537.92 212.49L538.17 212.23L538.42 212.04L538.67 211.96L538.92 212.01L539.18 212.18L539.43 212.43L539.68 212.71L539.93 212.73L540.18 212.73L540.43 212.73L540.68 212.73L540.93 212.7L541.18 212.39L541.43 212.03L541.68 211.63L541.94 211.21L542.19 210.79L542.44 210.4L542.69 210.07L542.94 209.81L543.19 209.66L543.44 209.62L543.69 209.69L543.94 209.88L544.19 210.17L544.45 210.53L544.7 210.93L544.95 211.35L545.2 211.76L545.45 212.15L545.7 212.5L545.7 213.7Z" fill="#0b72c4"/>
<path d="M491.5 213.7V209.34M493.6 213.7V208.32M495.7 213.7V209.58" stroke="#fff" stroke-width="0.6" opacity="0.8"/>
<text x="453.21" y="225.6" font-size="10" text-anchor="middle">-20</text>
<text x="493.25" y="225.6" font-size="10" text-anchor="middle">0</text>
<text x="533.29" y="225.6" font-size="10" text-anchor="middle">20</text>
<text x="437.8" y="136.8" font-size="10" text-anchor="end">1</text>
<text x="437.8" y="217.3" font-size="10" text-anchor="end">0</text>
<text transform="translate(437.8 177.05) scale(0.82 1)" font-size="10" text-anchor="end">0.5</text>
<text x="499.4" y="238.3" font-size="10.0" text-anchor="middle">Time (ns)</text>
<text x="499.5" y="248.9" font-size="10.0" text-anchor="middle">(b-iiii)</text>
<text x="425.6" y="167.3" font-size="10.5" text-anchor="middle" transform="rotate(-90 425.6 167.3)">Amplitude (a.u.)</text>
<text x="463.8" y="164" font-size="10.3">2.34ns</text>
<text x="510" y="164.6" font-size="10.3">8.9dB</text>
<path d="M482 169.2h6.5M505 169.2h-6.5" stroke="#ff2020" stroke-width="1.15"/>
<path d="M490.6 169.2l-4 -2.2v4.4z M496.4 169.2l4 -2.2v4.4z" fill="#ff2020"/>
<path d="M520 135.1V151M520 168.8V201.9" stroke="#111" stroke-width="1"/>
<path d="M517.7 139.2L520 134.6L522.3 139.2M517.7 197.8L520 202.4L522.3 197.8" stroke="#111" stroke-width="1" fill="none"/>
<path d="M443.4 338.9v-2.0M443.4 258.2v2.0M453.42 338.9v-2.0M453.42 258.2v2.0M463.44 338.9v-2.0M463.44 258.2v2.0M473.46 338.9v-2.0M473.46 258.2v2.0M483.48 338.9v-2.0M483.48 258.2v2.0M493.5 338.9v-2.0M493.5 258.2v2.0M503.52 338.9v-2.0M503.52 258.2v2.0M513.54 338.9v-2.0M513.54 258.2v2.0M523.56 338.9v-2.0M523.56 258.2v2.0M533.58 338.9v-2.0M533.58 258.2v2.0M543.6 338.9v-2.0M543.6 258.2v2.0M441 338.9h2.0M546 338.9h-2.0M441 298.55h2.0M546 298.55h-2.0M441 258.2h2.0M546 258.2h-2.0" stroke="#6b6b6b" stroke-width="0.8" fill="none"/>
<rect x="441" y="258.2" width="105" height="80.7" fill="none" stroke="#6b6b6b" stroke-width="1.1"/>
<path d="M441 338.9L441 337.93L441.25 337.93L441.5 337.93L441.75 337.93L442 337.93L442.25 337.93L442.5 337.93L442.75 337.93L443 337.93L443.26 337.93L443.51 337.93L443.76 337.93L444.01 337.93L444.26 337.93L444.51 337.65L444.76 337.34L445.01 337L445.26 336.65L445.51 336.3L445.76 335.96L446.01 335.68L446.26 335.45L446.51 335.3L446.76 335.24L447.01 335.27L447.26 335.4L447.52 335.6L447.77 335.88L448.02 336.2L448.27 336.54L448.52 336.9L448.77 337.24L449.02 337.56L449.27 337.85L449.52 337.93L449.77 337.93L450.02 337.91L450.27 337.63L450.52 337.38L450.77 337.21L451.02 337.16L451.27 337.23L451.53 337.42L451.78 337.68L452.03 337.93L452.28 337.93L452.53 337.93L452.78 337.69L453.03 337.38L453.28 337.04L453.53 336.69L453.78 336.34L454.03 336L454.28 335.71L454.53 335.47L454.78 335.31L455.03 335.24L455.28 335.26L455.53 335.38L455.79 335.57L456.04 335.84L456.29 336.16L456.54 336.5L456.79 336.86L457.04 337.2L457.29 337.53L457.54 337.82L457.79 337.93L458.04 337.93L458.29 337.93L458.54 337.85L458.79 337.59L459.04 337.29L459.29 336.95L459.54 336.57L459.79 336.15L460.05 335.69L460.3 335.21L460.55 334.71L460.8 334.2L461.05 333.69L461.3 333.21L461.55 332.76L461.8 332.36L462.05 332.02L462.3 331.76L462.55 331.58L462.8 331.5L463.05 331.51L463.3 331.61L463.55 331.81L463.8 332.09L464.05 332.44L464.31 332.85L464.56 333.31L464.81 332.9L465.06 332.16L465.31 331.43L465.56 330.75L465.81 330.12L466.06 329.58L466.31 329.15L466.56 328.84L466.81 328.66L467.06 328.62L467.31 328.73L467.56 328.97L467.81 329.35L468.06 329.84L468.32 330.42L468.57 331.08L468.82 331.79L469.07 332.52L469.32 333.26L469.57 333.98L469.82 334.67L470.07 335.31L470.32 335.9L470.57 336.43L470.82 336.88L471.07 336.39L471.32 335.91L471.57 335.48L471.82 335.17L472.07 335L472.32 335L472.58 335.17L472.83 335.48L473.08 335.9L473.33 336.39L473.58 336.88L473.83 337.35L474.08 337.76L474.33 337.93L474.58 337.93L474.83 337.93L475.08 337.93L475.33 337.93L475.58 337.74L475.83 337.44L476.08 337.08L476.33 336.67L476.58 336.22L476.84 335.72L477.09 335.18L477.34 334.62L477.59 334.05L477.84 333.49L478.09 332.96L478.34 332.47L478.59 332.05L478.84 331.71L479.09 331.47L479.34 331.34L479.59 331.33L479.84 331.43L480.09 331.64L480.34 331.95L480.59 332.35L480.84 332.82L481.1 333.35L481.35 333.9L481.6 334.47L481.85 335.03L482.1 335.58L482.35 336.09L482.6 336.56L482.85 336.98L483.1 337.26L483.35 336.86L483.6 336.4L483.85 335.89L484.1 335.32L484.35 334.71L484.6 334.07L484.85 333.41L485.11 332.77L485.36 332.15L485.61 331.58L485.86 331.08L486.11 330.68L486.36 330.39L486.61 330.22L486.86 330.19L487.11 330.29L487.36 330.51L487.61 329.89L487.86 328.88L488.11 328.01L488.36 327.32L488.61 326.88L488.86 326.7L489.11 326.31L489.37 322.36L489.62 318.4L489.87 314.43L490.12 310.38L490.37 306.34L490.62 302.29L490.87 298.19L491.12 293.33L491.37 288.48L491.62 283.67L491.87 279.37L492.12 275.08L492.37 270.78L492.62 267.61L492.87 264.57L493.12 261.54L493.37 258.51L493.63 260.93L493.88 263.96L494.13 266.99L494.38 270.03L494.63 274.21L494.88 278.51L495.13 282.8L495.38 287.5L495.63 292.35L495.88 297.21L496.13 301.48L496.38 305.52L496.63 309.56L496.88 313.61L497.13 317.61L497.38 321.56L497.63 325.52L497.89 325.83L498.14 325.95L498.39 326.32L498.64 326.94L498.89 327.76L499.14 328.73L499.39 329.74L499.64 329.46L499.89 329.33L500.14 329.34L500.39 329.49L500.64 329.78L500.89 330.2L501.14 330.73L501.39 331.34L501.64 332.01L501.89 332.72L502.15 333.44L502.4 334.15L502.65 334.83L502.9 335.46L503.15 336.05L503.4 336.56L503.65 337.02L503.9 337.41L504.15 337.07L504.4 336.66L504.65 336.19L504.9 335.68L505.15 335.13L505.4 334.55L505.65 333.96L505.9 333.38L506.16 332.82L506.41 332.31L506.66 331.87L506.91 331.5L507.16 331.24L507.41 331.09L507.66 331.06L507.91 331.15L508.16 331.35L508.41 331.66L508.66 332.06L508.91 332.54L509.16 333.08L509.41 333.65L509.66 334.24L509.91 334.82L510.16 335.39L510.42 335.92L510.67 336.41L510.92 336.86L511.17 337.24L511.42 337.58L511.67 337.86L511.92 337.93L512.17 337.93L512.42 337.93L512.67 337.93L512.92 337.6L513.17 337.17L513.42 336.69L513.67 336.19L513.92 335.72L514.17 335.34L514.42 335.08L514.68 334.98L514.93 335.05L515.18 335.28L515.43 335.64L515.68 336.09L515.93 336.59L516.18 336.19L516.43 335.57L516.68 334.86L516.93 334.09L517.18 333.27L517.43 332.42L517.68 331.57L517.93 330.74L518.18 329.97L518.43 329.29L518.68 328.73L518.94 328.32L519.19 328.07L519.44 328.01L519.69 328.13L519.94 328.42L520.19 328.88L520.44 329.47L520.69 330.18L520.94 330.98L521.19 331.82L521.44 332.67L521.69 332.58L521.94 332.05L522.19 331.61L522.44 331.29L522.69 331.1L522.95 331.06L523.2 331.16L523.45 331.39L523.7 331.76L523.95 332.23L524.2 332.79L524.45 333.4L524.7 334.04L524.95 334.69L525.2 335.01L525.45 334.74L525.7 334.58L525.95 334.54L526.2 334.63L526.45 334.84L526.7 335.15L526.95 335.53L527.21 335.96L527.46 336.41L527.71 336.85L527.96 337.26L528.21 337.63L528.46 337.93L528.71 337.93L528.96 337.93L529.21 337.93L529.46 337.92L529.71 337.65L529.96 337.34L530.21 337L530.46 336.64L530.71 336.29L530.96 335.96L531.21 335.67L531.47 335.45L531.72 335.3L531.97 335.24L532.22 335.27L532.47 335.4L532.72 335.61L532.97 335.88L533.22 336.2L533.47 336.55L533.72 336.9L533.97 337.25L534.22 337.57L534.47 337.85L534.72 337.93L534.97 337.93L535.22 337.93L535.47 337.93L535.73 337.93L535.98 337.93L536.23 337.93L536.48 337.93L536.73 337.93L536.98 337.93L537.23 337.93L537.48 337.93L537.73 337.73L537.98 337.43L538.23 337.1L538.48 336.76L538.73 336.4L538.98 336.04L539.23 335.71L539.48 335.43L539.74 335.2L539.99 335.05L540.24 334.98L540.49 335L540.74 335.11L540.99 335.3L541.24 335.56L541.49 335.87L541.74 336.21L541.99 336.57L542.24 336.93L542.49 337.27L542.74 337.58L542.99 337.86L543.24 337.93L543.49 337.93L543.74 337.93L544 337.93L544.25 337.93L544.5 337.93L544.75 337.93L545 337.93L545.25 337.93L545.5 337.93L545.75 337.93L546 337.93L546 338.9Z" fill="#0b72c4"/>
<path d="M491.5 338.9V334.54M493.6 338.9V333.52M495.7 338.9V334.78" stroke="#fff" stroke-width="0.6" opacity="0.8"/>
<text x="453.42" y="350.8" font-size="10" text-anchor="middle">-20</text>
<text x="493.5" y="350.8" font-size="10" text-anchor="middle">0</text>
<text x="533.58" y="350.8" font-size="10" text-anchor="middle">20</text>
<text x="438" y="261.8" font-size="10" text-anchor="end">1</text>
<text x="438" y="342.5" font-size="10" text-anchor="end">0</text>
<text transform="translate(438 302.15) scale(0.82 1)" font-size="10" text-anchor="end">0.5</text>
<text x="500.5" y="362.9" font-size="10.0" text-anchor="middle">Time (ns)</text>
<text x="497.7" y="373.4" font-size="10.0" text-anchor="middle">(c-iiii)</text>
<text x="425.6" y="292.3" font-size="10.5" text-anchor="middle" transform="rotate(-90 425.6 292.3)">Amplitude (a.u.)</text>
<text x="464.4" y="292.8" font-size="10.3">2.34ns</text>
<text x="512.7" y="289" font-size="10.3">8.9dB</text>
<path d="M482 298.4h6.5M505 298.4h-6.5" stroke="#ff2020" stroke-width="1.15"/>
<path d="M490.6 298.4l-4 -2.2v4.4z M496.4 298.4l4 -2.2v4.4z" fill="#ff2020"/>
<path d="M519.6 260.1V278M519.6 293.8V326.9" stroke="#111" stroke-width="1"/>
<path d="M517.3 264.2L519.6 259.6L521.9 264.2M517.3 322.8L519.6 327.4L521.9 322.8" stroke="#111" stroke-width="1" fill="none"/>
</svg></body></html>
